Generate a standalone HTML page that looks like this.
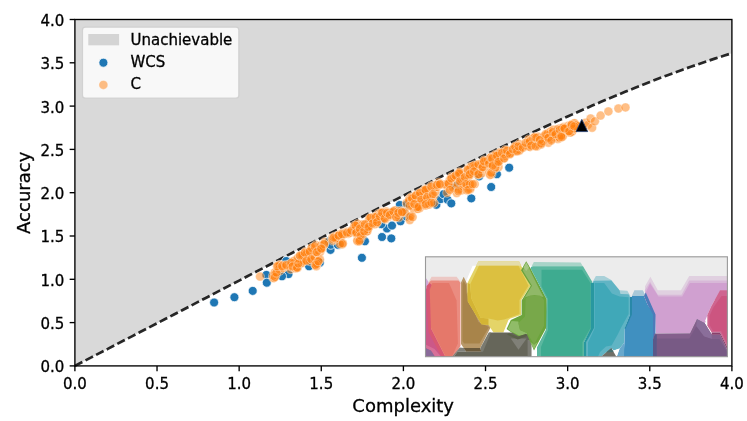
<!DOCTYPE html>
<html><head><meta charset="utf-8"><title>Accuracy vs Complexity</title>
<style>
html,body{margin:0;padding:0;background:#fff;}
svg{display:block;}
text{font-family:"DejaVu Sans","Liberation Sans",sans-serif;fill:#000;stroke:#000;stroke-width:0.3px;}
</style></head><body>
<svg width="747" height="421" viewBox="0 0 747 421">
<rect width="747" height="421" fill="#fff"/>
<path d="M74.9,19.5 L74.9,365.9 L83.1,361.6 L91.3,357.4 L99.5,353.1 L107.8,348.9 L116.0,344.6 L124.2,340.3 L132.4,336.1 L140.6,331.8 L148.8,327.6 L157.0,323.3 L165.2,319.0 L173.5,314.8 L181.7,310.5 L189.9,306.2 L198.1,301.9 L206.3,297.7 L214.5,293.4 L222.7,289.1 L230.9,284.8 L239.2,280.6 L247.4,276.3 L255.6,272.0 L263.8,267.7 L272.0,263.5 L280.2,259.2 L288.4,254.9 L296.6,250.6 L304.9,246.4 L313.1,242.1 L321.3,237.9 L329.5,233.6 L337.7,229.4 L345.9,225.1 L354.1,220.9 L362.3,216.7 L370.6,212.5 L378.8,208.2 L387.0,204.0 L395.2,199.9 L403.4,195.7 L411.6,191.5 L419.8,187.4 L428.0,183.3 L436.2,179.1 L444.5,175.0 L452.7,171.0 L460.9,166.9 L469.1,162.9 L477.3,158.8 L485.5,154.8 L493.7,150.9 L502.0,146.9 L510.2,143.0 L518.4,139.1 L526.6,135.3 L534.8,131.4 L543.0,127.6 L551.2,123.9 L559.4,120.1 L567.6,116.5 L575.9,112.8 L584.1,109.2 L592.3,105.6 L600.5,102.1 L608.7,98.6 L616.9,95.2 L625.1,91.8 L633.4,88.5 L641.6,85.2 L649.8,82.0 L658.0,78.8 L666.2,75.7 L674.4,72.7 L682.6,69.7 L690.8,66.8 L699.1,63.9 L707.3,61.1 L715.5,58.4 L723.7,55.8 L731.9,53.2 L731.9,19.5 Z" fill="#808080" fill-opacity="0.3"/>
<path d="M74.9,365.9 L83.1,361.6 L91.3,357.4 L99.5,353.1 L107.8,348.9 L116.0,344.6 L124.2,340.3 L132.4,336.1 L140.6,331.8 L148.8,327.6 L157.0,323.3 L165.2,319.0 L173.5,314.8 L181.7,310.5 L189.9,306.2 L198.1,301.9 L206.3,297.7 L214.5,293.4 L222.7,289.1 L230.9,284.8 L239.2,280.6 L247.4,276.3 L255.6,272.0 L263.8,267.7 L272.0,263.5 L280.2,259.2 L288.4,254.9 L296.6,250.6 L304.9,246.4 L313.1,242.1 L321.3,237.9 L329.5,233.6 L337.7,229.4 L345.9,225.1 L354.1,220.9 L362.3,216.7 L370.6,212.5 L378.8,208.2 L387.0,204.0 L395.2,199.9 L403.4,195.7 L411.6,191.5 L419.8,187.4 L428.0,183.3 L436.2,179.1 L444.5,175.0 L452.7,171.0 L460.9,166.9 L469.1,162.9 L477.3,158.8 L485.5,154.8 L493.7,150.9 L502.0,146.9 L510.2,143.0 L518.4,139.1 L526.6,135.3 L534.8,131.4 L543.0,127.6 L551.2,123.9 L559.4,120.1 L567.6,116.5 L575.9,112.8 L584.1,109.2 L592.3,105.6 L600.5,102.1 L608.7,98.6 L616.9,95.2 L625.1,91.8 L633.4,88.5 L641.6,85.2 L649.8,82.0 L658.0,78.8 L666.2,75.7 L674.4,72.7 L682.6,69.7 L690.8,66.8 L699.1,63.9 L707.3,61.1 L715.5,58.4 L723.7,55.8 L731.9,53.2" fill="none" stroke="#000" stroke-opacity="0.84" stroke-width="2.7" stroke-dasharray="8.4 3.55"/>
<g>
<circle cx="214.1" cy="302.5" r="4.5" fill="#1f77b4" fill-opacity="1" stroke="#fff" stroke-width="0.75" stroke-opacity="1"/>
<circle cx="234.4" cy="297.2" r="4.5" fill="#1f77b4" fill-opacity="1" stroke="#fff" stroke-width="0.75" stroke-opacity="1"/>
<circle cx="252.7" cy="290.9" r="4.5" fill="#1f77b4" fill-opacity="1" stroke="#fff" stroke-width="0.75" stroke-opacity="1"/>
<circle cx="266.4" cy="274.9" r="4.5" fill="#1f77b4" fill-opacity="1" stroke="#fff" stroke-width="0.75" stroke-opacity="1"/>
<circle cx="266.8" cy="282.7" r="4.5" fill="#1f77b4" fill-opacity="1" stroke="#fff" stroke-width="0.75" stroke-opacity="1"/>
<circle cx="288.5" cy="274.1" r="4.5" fill="#1f77b4" fill-opacity="1" stroke="#fff" stroke-width="0.75" stroke-opacity="1"/>
<circle cx="282.0" cy="276.3" r="4.5" fill="#1f77b4" fill-opacity="1" stroke="#fff" stroke-width="0.75" stroke-opacity="1"/>
<circle cx="286.2" cy="261.0" r="4.5" fill="#1f77b4" fill-opacity="1" stroke="#fff" stroke-width="0.75" stroke-opacity="1"/>
<circle cx="319.8" cy="262.7" r="4.5" fill="#1f77b4" fill-opacity="1" stroke="#fff" stroke-width="0.75" stroke-opacity="1"/>
<circle cx="309.1" cy="266.3" r="4.5" fill="#1f77b4" fill-opacity="1" stroke="#fff" stroke-width="0.75" stroke-opacity="1"/>
<circle cx="329.0" cy="241.4" r="4.5" fill="#1f77b4" fill-opacity="1" stroke="#fff" stroke-width="0.75" stroke-opacity="1"/>
<circle cx="330.5" cy="249.9" r="4.5" fill="#1f77b4" fill-opacity="1" stroke="#fff" stroke-width="0.75" stroke-opacity="1"/>
<circle cx="339.0" cy="244.9" r="4.5" fill="#1f77b4" fill-opacity="1" stroke="#fff" stroke-width="0.75" stroke-opacity="1"/>
<circle cx="330.7" cy="244.8" r="4.5" fill="#1f77b4" fill-opacity="1" stroke="#fff" stroke-width="0.75" stroke-opacity="1"/>
<circle cx="337.8" cy="244.8" r="4.5" fill="#1f77b4" fill-opacity="1" stroke="#fff" stroke-width="0.75" stroke-opacity="1"/>
<circle cx="364.9" cy="241.3" r="4.5" fill="#1f77b4" fill-opacity="1" stroke="#fff" stroke-width="0.75" stroke-opacity="1"/>
<circle cx="382.0" cy="237.0" r="4.5" fill="#1f77b4" fill-opacity="1" stroke="#fff" stroke-width="0.75" stroke-opacity="1"/>
<circle cx="391.3" cy="238.4" r="4.5" fill="#1f77b4" fill-opacity="1" stroke="#fff" stroke-width="0.75" stroke-opacity="1"/>
<circle cx="387.0" cy="228.5" r="4.5" fill="#1f77b4" fill-opacity="1" stroke="#fff" stroke-width="0.75" stroke-opacity="1"/>
<circle cx="392.0" cy="225.6" r="4.5" fill="#1f77b4" fill-opacity="1" stroke="#fff" stroke-width="0.75" stroke-opacity="1"/>
<circle cx="381.3" cy="224.2" r="4.5" fill="#1f77b4" fill-opacity="1" stroke="#fff" stroke-width="0.75" stroke-opacity="1"/>
<circle cx="400.5" cy="221.3" r="4.5" fill="#1f77b4" fill-opacity="1" stroke="#fff" stroke-width="0.75" stroke-opacity="1"/>
<circle cx="399.8" cy="205.0" r="4.5" fill="#1f77b4" fill-opacity="1" stroke="#fff" stroke-width="0.75" stroke-opacity="1"/>
<circle cx="403.4" cy="211.4" r="4.5" fill="#1f77b4" fill-opacity="1" stroke="#fff" stroke-width="0.75" stroke-opacity="1"/>
<circle cx="406.2" cy="216.4" r="4.5" fill="#1f77b4" fill-opacity="1" stroke="#fff" stroke-width="0.75" stroke-opacity="1"/>
<circle cx="406.9" cy="204.2" r="4.5" fill="#1f77b4" fill-opacity="1" stroke="#fff" stroke-width="0.75" stroke-opacity="1"/>
<circle cx="361.9" cy="257.8" r="4.5" fill="#1f77b4" fill-opacity="1" stroke="#fff" stroke-width="0.75" stroke-opacity="1"/>
<circle cx="436.4" cy="204.8" r="4.5" fill="#1f77b4" fill-opacity="1" stroke="#fff" stroke-width="0.75" stroke-opacity="1"/>
<circle cx="440.6" cy="199.1" r="4.5" fill="#1f77b4" fill-opacity="1" stroke="#fff" stroke-width="0.75" stroke-opacity="1"/>
<circle cx="443.5" cy="194.2" r="4.5" fill="#1f77b4" fill-opacity="1" stroke="#fff" stroke-width="0.75" stroke-opacity="1"/>
<circle cx="447.7" cy="199.9" r="4.5" fill="#1f77b4" fill-opacity="1" stroke="#fff" stroke-width="0.75" stroke-opacity="1"/>
<circle cx="451.3" cy="203.4" r="4.5" fill="#1f77b4" fill-opacity="1" stroke="#fff" stroke-width="0.75" stroke-opacity="1"/>
<circle cx="455.6" cy="186.3" r="4.5" fill="#1f77b4" fill-opacity="1" stroke="#fff" stroke-width="0.75" stroke-opacity="1"/>
<circle cx="471.3" cy="198.4" r="4.5" fill="#1f77b4" fill-opacity="1" stroke="#fff" stroke-width="0.75" stroke-opacity="1"/>
<circle cx="479.1" cy="176.4" r="4.5" fill="#1f77b4" fill-opacity="1" stroke="#fff" stroke-width="0.75" stroke-opacity="1"/>
<circle cx="491.2" cy="187.0" r="4.5" fill="#1f77b4" fill-opacity="1" stroke="#fff" stroke-width="0.75" stroke-opacity="1"/>
<circle cx="496.9" cy="174.2" r="4.5" fill="#1f77b4" fill-opacity="1" stroke="#fff" stroke-width="0.75" stroke-opacity="1"/>
<circle cx="509.2" cy="167.7" r="4.5" fill="#1f77b4" fill-opacity="1" stroke="#fff" stroke-width="0.75" stroke-opacity="1"/>
<circle cx="273.1" cy="278.1" r="4.5" fill="#ff7f0e" fill-opacity="0.5" stroke="#fff" stroke-width="0.75" stroke-opacity="0.5"/>
<circle cx="274.0" cy="277.9" r="4.5" fill="#ff7f0e" fill-opacity="0.5" stroke="#fff" stroke-width="0.75" stroke-opacity="0.5"/>
<circle cx="275.8" cy="274.8" r="4.5" fill="#ff7f0e" fill-opacity="0.5" stroke="#fff" stroke-width="0.75" stroke-opacity="0.5"/>
<circle cx="273.0" cy="275.8" r="4.5" fill="#ff7f0e" fill-opacity="0.5" stroke="#fff" stroke-width="0.75" stroke-opacity="0.5"/>
<circle cx="274.7" cy="272.5" r="4.5" fill="#ff7f0e" fill-opacity="0.5" stroke="#fff" stroke-width="0.75" stroke-opacity="0.5"/>
<circle cx="279.9" cy="270.8" r="4.5" fill="#ff7f0e" fill-opacity="0.5" stroke="#fff" stroke-width="0.75" stroke-opacity="0.5"/>
<circle cx="279.5" cy="265.0" r="4.5" fill="#ff7f0e" fill-opacity="0.5" stroke="#fff" stroke-width="0.75" stroke-opacity="0.5"/>
<circle cx="278.1" cy="265.8" r="4.5" fill="#ff7f0e" fill-opacity="0.5" stroke="#fff" stroke-width="0.75" stroke-opacity="0.5"/>
<circle cx="279.7" cy="265.1" r="4.5" fill="#ff7f0e" fill-opacity="0.5" stroke="#fff" stroke-width="0.75" stroke-opacity="0.5"/>
<circle cx="283.8" cy="266.1" r="4.5" fill="#ff7f0e" fill-opacity="0.5" stroke="#fff" stroke-width="0.75" stroke-opacity="0.5"/>
<circle cx="279.0" cy="268.9" r="4.5" fill="#ff7f0e" fill-opacity="0.5" stroke="#fff" stroke-width="0.75" stroke-opacity="0.5"/>
<circle cx="282.7" cy="265.2" r="4.5" fill="#ff7f0e" fill-opacity="0.5" stroke="#fff" stroke-width="0.75" stroke-opacity="0.5"/>
<circle cx="283.0" cy="268.0" r="4.5" fill="#ff7f0e" fill-opacity="0.5" stroke="#fff" stroke-width="0.75" stroke-opacity="0.5"/>
<circle cx="286.1" cy="265.9" r="4.5" fill="#ff7f0e" fill-opacity="0.5" stroke="#fff" stroke-width="0.75" stroke-opacity="0.5"/>
<circle cx="289.0" cy="264.4" r="4.5" fill="#ff7f0e" fill-opacity="0.5" stroke="#fff" stroke-width="0.75" stroke-opacity="0.5"/>
<circle cx="294.2" cy="260.8" r="4.5" fill="#ff7f0e" fill-opacity="0.5" stroke="#fff" stroke-width="0.75" stroke-opacity="0.5"/>
<circle cx="293.4" cy="261.4" r="4.5" fill="#ff7f0e" fill-opacity="0.5" stroke="#fff" stroke-width="0.75" stroke-opacity="0.5"/>
<circle cx="294.3" cy="262.7" r="4.5" fill="#ff7f0e" fill-opacity="0.5" stroke="#fff" stroke-width="0.75" stroke-opacity="0.5"/>
<circle cx="289.9" cy="266.3" r="4.5" fill="#ff7f0e" fill-opacity="0.5" stroke="#fff" stroke-width="0.75" stroke-opacity="0.5"/>
<circle cx="290.7" cy="269.2" r="4.5" fill="#ff7f0e" fill-opacity="0.5" stroke="#fff" stroke-width="0.75" stroke-opacity="0.5"/>
<circle cx="292.3" cy="267.0" r="4.5" fill="#ff7f0e" fill-opacity="0.5" stroke="#fff" stroke-width="0.75" stroke-opacity="0.5"/>
<circle cx="295.6" cy="268.4" r="4.5" fill="#ff7f0e" fill-opacity="0.5" stroke="#fff" stroke-width="0.75" stroke-opacity="0.5"/>
<circle cx="296.2" cy="267.5" r="4.5" fill="#ff7f0e" fill-opacity="0.5" stroke="#fff" stroke-width="0.75" stroke-opacity="0.5"/>
<circle cx="297.6" cy="267.7" r="4.5" fill="#ff7f0e" fill-opacity="0.5" stroke="#fff" stroke-width="0.75" stroke-opacity="0.5"/>
<circle cx="301.2" cy="262.8" r="4.5" fill="#ff7f0e" fill-opacity="0.5" stroke="#fff" stroke-width="0.75" stroke-opacity="0.5"/>
<circle cx="301.4" cy="263.4" r="4.5" fill="#ff7f0e" fill-opacity="0.5" stroke="#fff" stroke-width="0.75" stroke-opacity="0.5"/>
<circle cx="301.8" cy="262.5" r="4.5" fill="#ff7f0e" fill-opacity="0.5" stroke="#fff" stroke-width="0.75" stroke-opacity="0.5"/>
<circle cx="297.5" cy="258.2" r="4.5" fill="#ff7f0e" fill-opacity="0.5" stroke="#fff" stroke-width="0.75" stroke-opacity="0.5"/>
<circle cx="303.2" cy="255.6" r="4.5" fill="#ff7f0e" fill-opacity="0.5" stroke="#fff" stroke-width="0.75" stroke-opacity="0.5"/>
<circle cx="300.4" cy="256.2" r="4.5" fill="#ff7f0e" fill-opacity="0.5" stroke="#fff" stroke-width="0.75" stroke-opacity="0.5"/>
<circle cx="302.8" cy="255.1" r="4.5" fill="#ff7f0e" fill-opacity="0.5" stroke="#fff" stroke-width="0.75" stroke-opacity="0.5"/>
<circle cx="305.3" cy="251.7" r="4.5" fill="#ff7f0e" fill-opacity="0.5" stroke="#fff" stroke-width="0.75" stroke-opacity="0.5"/>
<circle cx="301.7" cy="255.7" r="4.5" fill="#ff7f0e" fill-opacity="0.5" stroke="#fff" stroke-width="0.75" stroke-opacity="0.5"/>
<circle cx="309.7" cy="257.2" r="4.5" fill="#ff7f0e" fill-opacity="0.5" stroke="#fff" stroke-width="0.75" stroke-opacity="0.5"/>
<circle cx="308.4" cy="259.2" r="4.5" fill="#ff7f0e" fill-opacity="0.5" stroke="#fff" stroke-width="0.75" stroke-opacity="0.5"/>
<circle cx="303.9" cy="261.0" r="4.5" fill="#ff7f0e" fill-opacity="0.5" stroke="#fff" stroke-width="0.75" stroke-opacity="0.5"/>
<circle cx="311.7" cy="252.0" r="4.5" fill="#ff7f0e" fill-opacity="0.5" stroke="#fff" stroke-width="0.75" stroke-opacity="0.5"/>
<circle cx="306.6" cy="253.5" r="4.5" fill="#ff7f0e" fill-opacity="0.5" stroke="#fff" stroke-width="0.75" stroke-opacity="0.5"/>
<circle cx="306.6" cy="253.9" r="4.5" fill="#ff7f0e" fill-opacity="0.5" stroke="#fff" stroke-width="0.75" stroke-opacity="0.5"/>
<circle cx="310.1" cy="261.3" r="4.5" fill="#ff7f0e" fill-opacity="0.5" stroke="#fff" stroke-width="0.75" stroke-opacity="0.5"/>
<circle cx="314.7" cy="257.5" r="4.5" fill="#ff7f0e" fill-opacity="0.5" stroke="#fff" stroke-width="0.75" stroke-opacity="0.5"/>
<circle cx="314.8" cy="256.7" r="4.5" fill="#ff7f0e" fill-opacity="0.5" stroke="#fff" stroke-width="0.75" stroke-opacity="0.5"/>
<circle cx="311.8" cy="248.3" r="4.5" fill="#ff7f0e" fill-opacity="0.5" stroke="#fff" stroke-width="0.75" stroke-opacity="0.5"/>
<circle cx="311.5" cy="247.9" r="4.5" fill="#ff7f0e" fill-opacity="0.5" stroke="#fff" stroke-width="0.75" stroke-opacity="0.5"/>
<circle cx="315.6" cy="245.1" r="4.5" fill="#ff7f0e" fill-opacity="0.5" stroke="#fff" stroke-width="0.75" stroke-opacity="0.5"/>
<circle cx="319.5" cy="250.1" r="4.5" fill="#ff7f0e" fill-opacity="0.5" stroke="#fff" stroke-width="0.75" stroke-opacity="0.5"/>
<circle cx="320.1" cy="252.1" r="4.5" fill="#ff7f0e" fill-opacity="0.5" stroke="#fff" stroke-width="0.75" stroke-opacity="0.5"/>
<circle cx="316.0" cy="252.4" r="4.5" fill="#ff7f0e" fill-opacity="0.5" stroke="#fff" stroke-width="0.75" stroke-opacity="0.5"/>
<circle cx="315.6" cy="265.4" r="4.5" fill="#ff7f0e" fill-opacity="0.5" stroke="#fff" stroke-width="0.75" stroke-opacity="0.5"/>
<circle cx="316.2" cy="264.8" r="4.5" fill="#ff7f0e" fill-opacity="0.5" stroke="#fff" stroke-width="0.75" stroke-opacity="0.5"/>
<circle cx="316.3" cy="266.2" r="4.5" fill="#ff7f0e" fill-opacity="0.5" stroke="#fff" stroke-width="0.75" stroke-opacity="0.5"/>
<circle cx="318.4" cy="261.0" r="4.5" fill="#ff7f0e" fill-opacity="0.5" stroke="#fff" stroke-width="0.75" stroke-opacity="0.5"/>
<circle cx="319.9" cy="259.5" r="4.5" fill="#ff7f0e" fill-opacity="0.5" stroke="#fff" stroke-width="0.75" stroke-opacity="0.5"/>
<circle cx="317.0" cy="263.9" r="4.5" fill="#ff7f0e" fill-opacity="0.5" stroke="#fff" stroke-width="0.75" stroke-opacity="0.5"/>
<circle cx="324.2" cy="244.3" r="4.5" fill="#ff7f0e" fill-opacity="0.5" stroke="#fff" stroke-width="0.75" stroke-opacity="0.5"/>
<circle cx="320.7" cy="245.6" r="4.5" fill="#ff7f0e" fill-opacity="0.5" stroke="#fff" stroke-width="0.75" stroke-opacity="0.5"/>
<circle cx="324.7" cy="242.0" r="4.5" fill="#ff7f0e" fill-opacity="0.5" stroke="#fff" stroke-width="0.75" stroke-opacity="0.5"/>
<circle cx="322.0" cy="248.6" r="4.5" fill="#ff7f0e" fill-opacity="0.5" stroke="#fff" stroke-width="0.75" stroke-opacity="0.5"/>
<circle cx="318.1" cy="250.5" r="4.5" fill="#ff7f0e" fill-opacity="0.5" stroke="#fff" stroke-width="0.75" stroke-opacity="0.5"/>
<circle cx="321.0" cy="249.3" r="4.5" fill="#ff7f0e" fill-opacity="0.5" stroke="#fff" stroke-width="0.75" stroke-opacity="0.5"/>
<circle cx="334.5" cy="239.8" r="4.5" fill="#ff7f0e" fill-opacity="0.5" stroke="#fff" stroke-width="0.75" stroke-opacity="0.5"/>
<circle cx="337.2" cy="235.8" r="4.5" fill="#ff7f0e" fill-opacity="0.5" stroke="#fff" stroke-width="0.75" stroke-opacity="0.5"/>
<circle cx="332.4" cy="240.7" r="4.5" fill="#ff7f0e" fill-opacity="0.5" stroke="#fff" stroke-width="0.75" stroke-opacity="0.5"/>
<circle cx="342.2" cy="233.1" r="4.5" fill="#ff7f0e" fill-opacity="0.5" stroke="#fff" stroke-width="0.75" stroke-opacity="0.5"/>
<circle cx="338.7" cy="236.2" r="4.5" fill="#ff7f0e" fill-opacity="0.5" stroke="#fff" stroke-width="0.75" stroke-opacity="0.5"/>
<circle cx="337.7" cy="235.8" r="4.5" fill="#ff7f0e" fill-opacity="0.5" stroke="#fff" stroke-width="0.75" stroke-opacity="0.5"/>
<circle cx="332.3" cy="237.8" r="4.5" fill="#ff7f0e" fill-opacity="0.5" stroke="#fff" stroke-width="0.75" stroke-opacity="0.5"/>
<circle cx="334.3" cy="236.6" r="4.5" fill="#ff7f0e" fill-opacity="0.5" stroke="#fff" stroke-width="0.75" stroke-opacity="0.5"/>
<circle cx="332.7" cy="239.2" r="4.5" fill="#ff7f0e" fill-opacity="0.5" stroke="#fff" stroke-width="0.75" stroke-opacity="0.5"/>
<circle cx="335.2" cy="237.5" r="4.5" fill="#ff7f0e" fill-opacity="0.5" stroke="#fff" stroke-width="0.75" stroke-opacity="0.5"/>
<circle cx="340.1" cy="234.0" r="4.5" fill="#ff7f0e" fill-opacity="0.5" stroke="#fff" stroke-width="0.75" stroke-opacity="0.5"/>
<circle cx="336.6" cy="237.8" r="4.5" fill="#ff7f0e" fill-opacity="0.5" stroke="#fff" stroke-width="0.75" stroke-opacity="0.5"/>
<circle cx="341.0" cy="243.1" r="4.5" fill="#ff7f0e" fill-opacity="0.5" stroke="#fff" stroke-width="0.75" stroke-opacity="0.5"/>
<circle cx="342.3" cy="244.4" r="4.5" fill="#ff7f0e" fill-opacity="0.5" stroke="#fff" stroke-width="0.75" stroke-opacity="0.5"/>
<circle cx="340.0" cy="244.1" r="4.5" fill="#ff7f0e" fill-opacity="0.5" stroke="#fff" stroke-width="0.75" stroke-opacity="0.5"/>
<circle cx="340.9" cy="236.1" r="4.5" fill="#ff7f0e" fill-opacity="0.5" stroke="#fff" stroke-width="0.75" stroke-opacity="0.5"/>
<circle cx="341.7" cy="235.8" r="4.5" fill="#ff7f0e" fill-opacity="0.5" stroke="#fff" stroke-width="0.75" stroke-opacity="0.5"/>
<circle cx="339.8" cy="234.7" r="4.5" fill="#ff7f0e" fill-opacity="0.5" stroke="#fff" stroke-width="0.75" stroke-opacity="0.5"/>
<circle cx="348.2" cy="233.7" r="4.5" fill="#ff7f0e" fill-opacity="0.5" stroke="#fff" stroke-width="0.75" stroke-opacity="0.5"/>
<circle cx="346.8" cy="231.8" r="4.5" fill="#ff7f0e" fill-opacity="0.5" stroke="#fff" stroke-width="0.75" stroke-opacity="0.5"/>
<circle cx="344.4" cy="234.1" r="4.5" fill="#ff7f0e" fill-opacity="0.5" stroke="#fff" stroke-width="0.75" stroke-opacity="0.5"/>
<circle cx="349.2" cy="232.9" r="4.5" fill="#ff7f0e" fill-opacity="0.5" stroke="#fff" stroke-width="0.75" stroke-opacity="0.5"/>
<circle cx="353.8" cy="228.1" r="4.5" fill="#ff7f0e" fill-opacity="0.5" stroke="#fff" stroke-width="0.75" stroke-opacity="0.5"/>
<circle cx="349.9" cy="232.6" r="4.5" fill="#ff7f0e" fill-opacity="0.5" stroke="#fff" stroke-width="0.75" stroke-opacity="0.5"/>
<circle cx="356.6" cy="226.3" r="4.5" fill="#ff7f0e" fill-opacity="0.5" stroke="#fff" stroke-width="0.75" stroke-opacity="0.5"/>
<circle cx="354.5" cy="225.5" r="4.5" fill="#ff7f0e" fill-opacity="0.5" stroke="#fff" stroke-width="0.75" stroke-opacity="0.5"/>
<circle cx="357.7" cy="223.7" r="4.5" fill="#ff7f0e" fill-opacity="0.5" stroke="#fff" stroke-width="0.75" stroke-opacity="0.5"/>
<circle cx="355.3" cy="232.9" r="4.5" fill="#ff7f0e" fill-opacity="0.5" stroke="#fff" stroke-width="0.75" stroke-opacity="0.5"/>
<circle cx="355.8" cy="232.6" r="4.5" fill="#ff7f0e" fill-opacity="0.5" stroke="#fff" stroke-width="0.75" stroke-opacity="0.5"/>
<circle cx="359.3" cy="229.9" r="4.5" fill="#ff7f0e" fill-opacity="0.5" stroke="#fff" stroke-width="0.75" stroke-opacity="0.5"/>
<circle cx="356.4" cy="232.0" r="4.5" fill="#ff7f0e" fill-opacity="0.5" stroke="#fff" stroke-width="0.75" stroke-opacity="0.5"/>
<circle cx="362.6" cy="229.1" r="4.5" fill="#ff7f0e" fill-opacity="0.5" stroke="#fff" stroke-width="0.75" stroke-opacity="0.5"/>
<circle cx="359.4" cy="230.5" r="4.5" fill="#ff7f0e" fill-opacity="0.5" stroke="#fff" stroke-width="0.75" stroke-opacity="0.5"/>
<circle cx="363.6" cy="233.0" r="4.5" fill="#ff7f0e" fill-opacity="0.5" stroke="#fff" stroke-width="0.75" stroke-opacity="0.5"/>
<circle cx="362.3" cy="236.1" r="4.5" fill="#ff7f0e" fill-opacity="0.5" stroke="#fff" stroke-width="0.75" stroke-opacity="0.5"/>
<circle cx="361.7" cy="235.1" r="4.5" fill="#ff7f0e" fill-opacity="0.5" stroke="#fff" stroke-width="0.75" stroke-opacity="0.5"/>
<circle cx="357.7" cy="241.4" r="4.5" fill="#ff7f0e" fill-opacity="0.5" stroke="#fff" stroke-width="0.75" stroke-opacity="0.5"/>
<circle cx="357.3" cy="240.5" r="4.5" fill="#ff7f0e" fill-opacity="0.5" stroke="#fff" stroke-width="0.75" stroke-opacity="0.5"/>
<circle cx="359.8" cy="240.1" r="4.5" fill="#ff7f0e" fill-opacity="0.5" stroke="#fff" stroke-width="0.75" stroke-opacity="0.5"/>
<circle cx="366.4" cy="228.4" r="4.5" fill="#ff7f0e" fill-opacity="0.5" stroke="#fff" stroke-width="0.75" stroke-opacity="0.5"/>
<circle cx="367.0" cy="230.7" r="4.5" fill="#ff7f0e" fill-opacity="0.5" stroke="#fff" stroke-width="0.75" stroke-opacity="0.5"/>
<circle cx="367.2" cy="231.4" r="4.5" fill="#ff7f0e" fill-opacity="0.5" stroke="#fff" stroke-width="0.75" stroke-opacity="0.5"/>
<circle cx="367.7" cy="223.1" r="4.5" fill="#ff7f0e" fill-opacity="0.5" stroke="#fff" stroke-width="0.75" stroke-opacity="0.5"/>
<circle cx="361.5" cy="226.9" r="4.5" fill="#ff7f0e" fill-opacity="0.5" stroke="#fff" stroke-width="0.75" stroke-opacity="0.5"/>
<circle cx="362.6" cy="224.5" r="4.5" fill="#ff7f0e" fill-opacity="0.5" stroke="#fff" stroke-width="0.75" stroke-opacity="0.5"/>
<circle cx="369.6" cy="226.5" r="4.5" fill="#ff7f0e" fill-opacity="0.5" stroke="#fff" stroke-width="0.75" stroke-opacity="0.5"/>
<circle cx="367.9" cy="229.1" r="4.5" fill="#ff7f0e" fill-opacity="0.5" stroke="#fff" stroke-width="0.75" stroke-opacity="0.5"/>
<circle cx="369.3" cy="226.0" r="4.5" fill="#ff7f0e" fill-opacity="0.5" stroke="#fff" stroke-width="0.75" stroke-opacity="0.5"/>
<circle cx="368.9" cy="220.1" r="4.5" fill="#ff7f0e" fill-opacity="0.5" stroke="#fff" stroke-width="0.75" stroke-opacity="0.5"/>
<circle cx="370.4" cy="219.0" r="4.5" fill="#ff7f0e" fill-opacity="0.5" stroke="#fff" stroke-width="0.75" stroke-opacity="0.5"/>
<circle cx="369.6" cy="218.2" r="4.5" fill="#ff7f0e" fill-opacity="0.5" stroke="#fff" stroke-width="0.75" stroke-opacity="0.5"/>
<circle cx="374.9" cy="221.1" r="4.5" fill="#ff7f0e" fill-opacity="0.5" stroke="#fff" stroke-width="0.75" stroke-opacity="0.5"/>
<circle cx="374.7" cy="224.2" r="4.5" fill="#ff7f0e" fill-opacity="0.5" stroke="#fff" stroke-width="0.75" stroke-opacity="0.5"/>
<circle cx="374.8" cy="223.7" r="4.5" fill="#ff7f0e" fill-opacity="0.5" stroke="#fff" stroke-width="0.75" stroke-opacity="0.5"/>
<circle cx="372.2" cy="219.3" r="4.5" fill="#ff7f0e" fill-opacity="0.5" stroke="#fff" stroke-width="0.75" stroke-opacity="0.5"/>
<circle cx="378.1" cy="214.0" r="4.5" fill="#ff7f0e" fill-opacity="0.5" stroke="#fff" stroke-width="0.75" stroke-opacity="0.5"/>
<circle cx="374.0" cy="217.0" r="4.5" fill="#ff7f0e" fill-opacity="0.5" stroke="#fff" stroke-width="0.75" stroke-opacity="0.5"/>
<circle cx="377.2" cy="221.7" r="4.5" fill="#ff7f0e" fill-opacity="0.5" stroke="#fff" stroke-width="0.75" stroke-opacity="0.5"/>
<circle cx="376.8" cy="223.3" r="4.5" fill="#ff7f0e" fill-opacity="0.5" stroke="#fff" stroke-width="0.75" stroke-opacity="0.5"/>
<circle cx="373.5" cy="222.1" r="4.5" fill="#ff7f0e" fill-opacity="0.5" stroke="#fff" stroke-width="0.75" stroke-opacity="0.5"/>
<circle cx="377.3" cy="216.2" r="4.5" fill="#ff7f0e" fill-opacity="0.5" stroke="#fff" stroke-width="0.75" stroke-opacity="0.5"/>
<circle cx="376.9" cy="219.8" r="4.5" fill="#ff7f0e" fill-opacity="0.5" stroke="#fff" stroke-width="0.75" stroke-opacity="0.5"/>
<circle cx="382.4" cy="213.5" r="4.5" fill="#ff7f0e" fill-opacity="0.5" stroke="#fff" stroke-width="0.75" stroke-opacity="0.5"/>
<circle cx="382.0" cy="212.1" r="4.5" fill="#ff7f0e" fill-opacity="0.5" stroke="#fff" stroke-width="0.75" stroke-opacity="0.5"/>
<circle cx="380.7" cy="212.9" r="4.5" fill="#ff7f0e" fill-opacity="0.5" stroke="#fff" stroke-width="0.75" stroke-opacity="0.5"/>
<circle cx="383.0" cy="212.6" r="4.5" fill="#ff7f0e" fill-opacity="0.5" stroke="#fff" stroke-width="0.75" stroke-opacity="0.5"/>
<circle cx="383.8" cy="217.8" r="4.5" fill="#ff7f0e" fill-opacity="0.5" stroke="#fff" stroke-width="0.75" stroke-opacity="0.5"/>
<circle cx="383.6" cy="217.6" r="4.5" fill="#ff7f0e" fill-opacity="0.5" stroke="#fff" stroke-width="0.75" stroke-opacity="0.5"/>
<circle cx="385.2" cy="219.2" r="4.5" fill="#ff7f0e" fill-opacity="0.5" stroke="#fff" stroke-width="0.75" stroke-opacity="0.5"/>
<circle cx="386.2" cy="211.5" r="4.5" fill="#ff7f0e" fill-opacity="0.5" stroke="#fff" stroke-width="0.75" stroke-opacity="0.5"/>
<circle cx="384.7" cy="213.4" r="4.5" fill="#ff7f0e" fill-opacity="0.5" stroke="#fff" stroke-width="0.75" stroke-opacity="0.5"/>
<circle cx="387.7" cy="213.6" r="4.5" fill="#ff7f0e" fill-opacity="0.5" stroke="#fff" stroke-width="0.75" stroke-opacity="0.5"/>
<circle cx="389.0" cy="216.5" r="4.5" fill="#ff7f0e" fill-opacity="0.5" stroke="#fff" stroke-width="0.75" stroke-opacity="0.5"/>
<circle cx="390.7" cy="214.2" r="4.5" fill="#ff7f0e" fill-opacity="0.5" stroke="#fff" stroke-width="0.75" stroke-opacity="0.5"/>
<circle cx="388.9" cy="215.3" r="4.5" fill="#ff7f0e" fill-opacity="0.5" stroke="#fff" stroke-width="0.75" stroke-opacity="0.5"/>
<circle cx="394.8" cy="210.4" r="4.5" fill="#ff7f0e" fill-opacity="0.5" stroke="#fff" stroke-width="0.75" stroke-opacity="0.5"/>
<circle cx="394.8" cy="210.6" r="4.5" fill="#ff7f0e" fill-opacity="0.5" stroke="#fff" stroke-width="0.75" stroke-opacity="0.5"/>
<circle cx="391.6" cy="212.4" r="4.5" fill="#ff7f0e" fill-opacity="0.5" stroke="#fff" stroke-width="0.75" stroke-opacity="0.5"/>
<circle cx="397.6" cy="214.7" r="4.5" fill="#ff7f0e" fill-opacity="0.5" stroke="#fff" stroke-width="0.75" stroke-opacity="0.5"/>
<circle cx="395.7" cy="217.1" r="4.5" fill="#ff7f0e" fill-opacity="0.5" stroke="#fff" stroke-width="0.75" stroke-opacity="0.5"/>
<circle cx="398.9" cy="217.5" r="4.5" fill="#ff7f0e" fill-opacity="0.5" stroke="#fff" stroke-width="0.75" stroke-opacity="0.5"/>
<circle cx="397.5" cy="214.8" r="4.5" fill="#ff7f0e" fill-opacity="0.5" stroke="#fff" stroke-width="0.75" stroke-opacity="0.5"/>
<circle cx="400.4" cy="210.8" r="4.5" fill="#ff7f0e" fill-opacity="0.5" stroke="#fff" stroke-width="0.75" stroke-opacity="0.5"/>
<circle cx="398.1" cy="211.4" r="4.5" fill="#ff7f0e" fill-opacity="0.5" stroke="#fff" stroke-width="0.75" stroke-opacity="0.5"/>
<circle cx="404.1" cy="211.7" r="4.5" fill="#ff7f0e" fill-opacity="0.5" stroke="#fff" stroke-width="0.75" stroke-opacity="0.5"/>
<circle cx="404.6" cy="211.9" r="4.5" fill="#ff7f0e" fill-opacity="0.5" stroke="#fff" stroke-width="0.75" stroke-opacity="0.5"/>
<circle cx="403.1" cy="212.4" r="4.5" fill="#ff7f0e" fill-opacity="0.5" stroke="#fff" stroke-width="0.75" stroke-opacity="0.5"/>
<circle cx="409.5" cy="198.9" r="4.5" fill="#ff7f0e" fill-opacity="0.5" stroke="#fff" stroke-width="0.75" stroke-opacity="0.5"/>
<circle cx="409.7" cy="198.4" r="4.5" fill="#ff7f0e" fill-opacity="0.5" stroke="#fff" stroke-width="0.75" stroke-opacity="0.5"/>
<circle cx="406.6" cy="203.0" r="4.5" fill="#ff7f0e" fill-opacity="0.5" stroke="#fff" stroke-width="0.75" stroke-opacity="0.5"/>
<circle cx="409.4" cy="217.1" r="4.5" fill="#ff7f0e" fill-opacity="0.5" stroke="#fff" stroke-width="0.75" stroke-opacity="0.5"/>
<circle cx="409.8" cy="220.0" r="4.5" fill="#ff7f0e" fill-opacity="0.5" stroke="#fff" stroke-width="0.75" stroke-opacity="0.5"/>
<circle cx="410.4" cy="216.3" r="4.5" fill="#ff7f0e" fill-opacity="0.5" stroke="#fff" stroke-width="0.75" stroke-opacity="0.5"/>
<circle cx="412.2" cy="203.0" r="4.5" fill="#ff7f0e" fill-opacity="0.5" stroke="#fff" stroke-width="0.75" stroke-opacity="0.5"/>
<circle cx="412.2" cy="205.2" r="4.5" fill="#ff7f0e" fill-opacity="0.5" stroke="#fff" stroke-width="0.75" stroke-opacity="0.5"/>
<circle cx="412.2" cy="206.3" r="4.5" fill="#ff7f0e" fill-opacity="0.5" stroke="#fff" stroke-width="0.75" stroke-opacity="0.5"/>
<circle cx="416.1" cy="199.4" r="4.5" fill="#ff7f0e" fill-opacity="0.5" stroke="#fff" stroke-width="0.75" stroke-opacity="0.5"/>
<circle cx="412.3" cy="201.2" r="4.5" fill="#ff7f0e" fill-opacity="0.5" stroke="#fff" stroke-width="0.75" stroke-opacity="0.5"/>
<circle cx="415.6" cy="199.3" r="4.5" fill="#ff7f0e" fill-opacity="0.5" stroke="#fff" stroke-width="0.75" stroke-opacity="0.5"/>
<circle cx="414.1" cy="209.5" r="4.5" fill="#ff7f0e" fill-opacity="0.5" stroke="#fff" stroke-width="0.75" stroke-opacity="0.5"/>
<circle cx="419.9" cy="203.8" r="4.5" fill="#ff7f0e" fill-opacity="0.5" stroke="#fff" stroke-width="0.75" stroke-opacity="0.5"/>
<circle cx="415.7" cy="208.0" r="4.5" fill="#ff7f0e" fill-opacity="0.5" stroke="#fff" stroke-width="0.75" stroke-opacity="0.5"/>
<circle cx="421.3" cy="193.5" r="4.5" fill="#ff7f0e" fill-opacity="0.5" stroke="#fff" stroke-width="0.75" stroke-opacity="0.5"/>
<circle cx="416.8" cy="195.8" r="4.5" fill="#ff7f0e" fill-opacity="0.5" stroke="#fff" stroke-width="0.75" stroke-opacity="0.5"/>
<circle cx="419.8" cy="196.3" r="4.5" fill="#ff7f0e" fill-opacity="0.5" stroke="#fff" stroke-width="0.75" stroke-opacity="0.5"/>
<circle cx="411.4" cy="198.2" r="4.5" fill="#ff7f0e" fill-opacity="0.5" stroke="#fff" stroke-width="0.75" stroke-opacity="0.5"/>
<circle cx="411.4" cy="198.2" r="4.5" fill="#ff7f0e" fill-opacity="0.5" stroke="#fff" stroke-width="0.75" stroke-opacity="0.5"/>
<circle cx="411.5" cy="197.0" r="4.5" fill="#ff7f0e" fill-opacity="0.5" stroke="#fff" stroke-width="0.75" stroke-opacity="0.5"/>
<circle cx="415.7" cy="197.5" r="4.5" fill="#ff7f0e" fill-opacity="0.5" stroke="#fff" stroke-width="0.75" stroke-opacity="0.5"/>
<circle cx="415.1" cy="196.9" r="4.5" fill="#ff7f0e" fill-opacity="0.5" stroke="#fff" stroke-width="0.75" stroke-opacity="0.5"/>
<circle cx="413.3" cy="197.6" r="4.5" fill="#ff7f0e" fill-opacity="0.5" stroke="#fff" stroke-width="0.75" stroke-opacity="0.5"/>
<circle cx="416.1" cy="203.9" r="4.5" fill="#ff7f0e" fill-opacity="0.5" stroke="#fff" stroke-width="0.75" stroke-opacity="0.5"/>
<circle cx="414.4" cy="204.0" r="4.5" fill="#ff7f0e" fill-opacity="0.5" stroke="#fff" stroke-width="0.75" stroke-opacity="0.5"/>
<circle cx="415.3" cy="205.2" r="4.5" fill="#ff7f0e" fill-opacity="0.5" stroke="#fff" stroke-width="0.75" stroke-opacity="0.5"/>
<circle cx="417.5" cy="194.2" r="4.5" fill="#ff7f0e" fill-opacity="0.5" stroke="#fff" stroke-width="0.75" stroke-opacity="0.5"/>
<circle cx="422.9" cy="191.3" r="4.5" fill="#ff7f0e" fill-opacity="0.5" stroke="#fff" stroke-width="0.75" stroke-opacity="0.5"/>
<circle cx="419.6" cy="193.8" r="4.5" fill="#ff7f0e" fill-opacity="0.5" stroke="#fff" stroke-width="0.75" stroke-opacity="0.5"/>
<circle cx="419.2" cy="200.1" r="4.5" fill="#ff7f0e" fill-opacity="0.5" stroke="#fff" stroke-width="0.75" stroke-opacity="0.5"/>
<circle cx="419.3" cy="201.3" r="4.5" fill="#ff7f0e" fill-opacity="0.5" stroke="#fff" stroke-width="0.75" stroke-opacity="0.5"/>
<circle cx="420.1" cy="199.5" r="4.5" fill="#ff7f0e" fill-opacity="0.5" stroke="#fff" stroke-width="0.75" stroke-opacity="0.5"/>
<circle cx="419.8" cy="208.1" r="4.5" fill="#ff7f0e" fill-opacity="0.5" stroke="#fff" stroke-width="0.75" stroke-opacity="0.5"/>
<circle cx="417.1" cy="208.5" r="4.5" fill="#ff7f0e" fill-opacity="0.5" stroke="#fff" stroke-width="0.75" stroke-opacity="0.5"/>
<circle cx="417.9" cy="208.7" r="4.5" fill="#ff7f0e" fill-opacity="0.5" stroke="#fff" stroke-width="0.75" stroke-opacity="0.5"/>
<circle cx="426.3" cy="188.7" r="4.5" fill="#ff7f0e" fill-opacity="0.5" stroke="#fff" stroke-width="0.75" stroke-opacity="0.5"/>
<circle cx="423.7" cy="190.6" r="4.5" fill="#ff7f0e" fill-opacity="0.5" stroke="#fff" stroke-width="0.75" stroke-opacity="0.5"/>
<circle cx="424.9" cy="189.8" r="4.5" fill="#ff7f0e" fill-opacity="0.5" stroke="#fff" stroke-width="0.75" stroke-opacity="0.5"/>
<circle cx="425.9" cy="198.7" r="4.5" fill="#ff7f0e" fill-opacity="0.5" stroke="#fff" stroke-width="0.75" stroke-opacity="0.5"/>
<circle cx="424.6" cy="200.2" r="4.5" fill="#ff7f0e" fill-opacity="0.5" stroke="#fff" stroke-width="0.75" stroke-opacity="0.5"/>
<circle cx="427.0" cy="197.5" r="4.5" fill="#ff7f0e" fill-opacity="0.5" stroke="#fff" stroke-width="0.75" stroke-opacity="0.5"/>
<circle cx="425.5" cy="205.6" r="4.5" fill="#ff7f0e" fill-opacity="0.5" stroke="#fff" stroke-width="0.75" stroke-opacity="0.5"/>
<circle cx="428.0" cy="203.2" r="4.5" fill="#ff7f0e" fill-opacity="0.5" stroke="#fff" stroke-width="0.75" stroke-opacity="0.5"/>
<circle cx="425.6" cy="205.0" r="4.5" fill="#ff7f0e" fill-opacity="0.5" stroke="#fff" stroke-width="0.75" stroke-opacity="0.5"/>
<circle cx="433.9" cy="185.4" r="4.5" fill="#ff7f0e" fill-opacity="0.5" stroke="#fff" stroke-width="0.75" stroke-opacity="0.5"/>
<circle cx="433.0" cy="188.0" r="4.5" fill="#ff7f0e" fill-opacity="0.5" stroke="#fff" stroke-width="0.75" stroke-opacity="0.5"/>
<circle cx="431.2" cy="186.0" r="4.5" fill="#ff7f0e" fill-opacity="0.5" stroke="#fff" stroke-width="0.75" stroke-opacity="0.5"/>
<circle cx="430.9" cy="196.0" r="4.5" fill="#ff7f0e" fill-opacity="0.5" stroke="#fff" stroke-width="0.75" stroke-opacity="0.5"/>
<circle cx="434.0" cy="195.4" r="4.5" fill="#ff7f0e" fill-opacity="0.5" stroke="#fff" stroke-width="0.75" stroke-opacity="0.5"/>
<circle cx="435.3" cy="191.9" r="4.5" fill="#ff7f0e" fill-opacity="0.5" stroke="#fff" stroke-width="0.75" stroke-opacity="0.5"/>
<circle cx="429.2" cy="202.8" r="4.5" fill="#ff7f0e" fill-opacity="0.5" stroke="#fff" stroke-width="0.75" stroke-opacity="0.5"/>
<circle cx="429.2" cy="204.6" r="4.5" fill="#ff7f0e" fill-opacity="0.5" stroke="#fff" stroke-width="0.75" stroke-opacity="0.5"/>
<circle cx="433.9" cy="203.0" r="4.5" fill="#ff7f0e" fill-opacity="0.5" stroke="#fff" stroke-width="0.75" stroke-opacity="0.5"/>
<circle cx="435.4" cy="187.2" r="4.5" fill="#ff7f0e" fill-opacity="0.5" stroke="#fff" stroke-width="0.75" stroke-opacity="0.5"/>
<circle cx="435.8" cy="185.2" r="4.5" fill="#ff7f0e" fill-opacity="0.5" stroke="#fff" stroke-width="0.75" stroke-opacity="0.5"/>
<circle cx="438.7" cy="182.4" r="4.5" fill="#ff7f0e" fill-opacity="0.5" stroke="#fff" stroke-width="0.75" stroke-opacity="0.5"/>
<circle cx="437.0" cy="187.0" r="4.5" fill="#ff7f0e" fill-opacity="0.5" stroke="#fff" stroke-width="0.75" stroke-opacity="0.5"/>
<circle cx="438.4" cy="184.4" r="4.5" fill="#ff7f0e" fill-opacity="0.5" stroke="#fff" stroke-width="0.75" stroke-opacity="0.5"/>
<circle cx="440.5" cy="184.6" r="4.5" fill="#ff7f0e" fill-opacity="0.5" stroke="#fff" stroke-width="0.75" stroke-opacity="0.5"/>
<circle cx="445.0" cy="184.6" r="4.5" fill="#ff7f0e" fill-opacity="0.5" stroke="#fff" stroke-width="0.75" stroke-opacity="0.5"/>
<circle cx="448.1" cy="183.7" r="4.5" fill="#ff7f0e" fill-opacity="0.5" stroke="#fff" stroke-width="0.75" stroke-opacity="0.5"/>
<circle cx="446.5" cy="184.9" r="4.5" fill="#ff7f0e" fill-opacity="0.5" stroke="#fff" stroke-width="0.75" stroke-opacity="0.5"/>
<circle cx="454.5" cy="176.5" r="4.5" fill="#ff7f0e" fill-opacity="0.5" stroke="#fff" stroke-width="0.75" stroke-opacity="0.5"/>
<circle cx="451.6" cy="176.8" r="4.5" fill="#ff7f0e" fill-opacity="0.5" stroke="#fff" stroke-width="0.75" stroke-opacity="0.5"/>
<circle cx="449.7" cy="180.0" r="4.5" fill="#ff7f0e" fill-opacity="0.5" stroke="#fff" stroke-width="0.75" stroke-opacity="0.5"/>
<circle cx="447.2" cy="192.8" r="4.5" fill="#ff7f0e" fill-opacity="0.5" stroke="#fff" stroke-width="0.75" stroke-opacity="0.5"/>
<circle cx="452.8" cy="186.9" r="4.5" fill="#ff7f0e" fill-opacity="0.5" stroke="#fff" stroke-width="0.75" stroke-opacity="0.5"/>
<circle cx="453.0" cy="187.9" r="4.5" fill="#ff7f0e" fill-opacity="0.5" stroke="#fff" stroke-width="0.75" stroke-opacity="0.5"/>
<circle cx="457.5" cy="175.7" r="4.5" fill="#ff7f0e" fill-opacity="0.5" stroke="#fff" stroke-width="0.75" stroke-opacity="0.5"/>
<circle cx="454.2" cy="177.0" r="4.5" fill="#ff7f0e" fill-opacity="0.5" stroke="#fff" stroke-width="0.75" stroke-opacity="0.5"/>
<circle cx="456.7" cy="176.3" r="4.5" fill="#ff7f0e" fill-opacity="0.5" stroke="#fff" stroke-width="0.75" stroke-opacity="0.5"/>
<circle cx="456.8" cy="193.1" r="4.5" fill="#ff7f0e" fill-opacity="0.5" stroke="#fff" stroke-width="0.75" stroke-opacity="0.5"/>
<circle cx="461.6" cy="190.4" r="4.5" fill="#ff7f0e" fill-opacity="0.5" stroke="#fff" stroke-width="0.75" stroke-opacity="0.5"/>
<circle cx="458.7" cy="189.6" r="4.5" fill="#ff7f0e" fill-opacity="0.5" stroke="#fff" stroke-width="0.75" stroke-opacity="0.5"/>
<circle cx="459.1" cy="172.9" r="4.5" fill="#ff7f0e" fill-opacity="0.5" stroke="#fff" stroke-width="0.75" stroke-opacity="0.5"/>
<circle cx="460.6" cy="173.5" r="4.5" fill="#ff7f0e" fill-opacity="0.5" stroke="#fff" stroke-width="0.75" stroke-opacity="0.5"/>
<circle cx="459.6" cy="172.0" r="4.5" fill="#ff7f0e" fill-opacity="0.5" stroke="#fff" stroke-width="0.75" stroke-opacity="0.5"/>
<circle cx="460.9" cy="181.3" r="4.5" fill="#ff7f0e" fill-opacity="0.5" stroke="#fff" stroke-width="0.75" stroke-opacity="0.5"/>
<circle cx="457.7" cy="184.0" r="4.5" fill="#ff7f0e" fill-opacity="0.5" stroke="#fff" stroke-width="0.75" stroke-opacity="0.5"/>
<circle cx="461.0" cy="179.2" r="4.5" fill="#ff7f0e" fill-opacity="0.5" stroke="#fff" stroke-width="0.75" stroke-opacity="0.5"/>
<circle cx="467.8" cy="174.2" r="4.5" fill="#ff7f0e" fill-opacity="0.5" stroke="#fff" stroke-width="0.75" stroke-opacity="0.5"/>
<circle cx="463.6" cy="178.6" r="4.5" fill="#ff7f0e" fill-opacity="0.5" stroke="#fff" stroke-width="0.75" stroke-opacity="0.5"/>
<circle cx="465.5" cy="177.0" r="4.5" fill="#ff7f0e" fill-opacity="0.5" stroke="#fff" stroke-width="0.75" stroke-opacity="0.5"/>
<circle cx="467.3" cy="183.5" r="4.5" fill="#ff7f0e" fill-opacity="0.5" stroke="#fff" stroke-width="0.75" stroke-opacity="0.5"/>
<circle cx="465.0" cy="183.6" r="4.5" fill="#ff7f0e" fill-opacity="0.5" stroke="#fff" stroke-width="0.75" stroke-opacity="0.5"/>
<circle cx="463.3" cy="186.6" r="4.5" fill="#ff7f0e" fill-opacity="0.5" stroke="#fff" stroke-width="0.75" stroke-opacity="0.5"/>
<circle cx="470.2" cy="189.2" r="4.5" fill="#ff7f0e" fill-opacity="0.5" stroke="#fff" stroke-width="0.75" stroke-opacity="0.5"/>
<circle cx="470.1" cy="188.5" r="4.5" fill="#ff7f0e" fill-opacity="0.5" stroke="#fff" stroke-width="0.75" stroke-opacity="0.5"/>
<circle cx="466.8" cy="190.3" r="4.5" fill="#ff7f0e" fill-opacity="0.5" stroke="#fff" stroke-width="0.75" stroke-opacity="0.5"/>
<circle cx="470.3" cy="166.8" r="4.5" fill="#ff7f0e" fill-opacity="0.5" stroke="#fff" stroke-width="0.75" stroke-opacity="0.5"/>
<circle cx="467.7" cy="168.9" r="4.5" fill="#ff7f0e" fill-opacity="0.5" stroke="#fff" stroke-width="0.75" stroke-opacity="0.5"/>
<circle cx="469.6" cy="168.4" r="4.5" fill="#ff7f0e" fill-opacity="0.5" stroke="#fff" stroke-width="0.75" stroke-opacity="0.5"/>
<circle cx="468.6" cy="174.4" r="4.5" fill="#ff7f0e" fill-opacity="0.5" stroke="#fff" stroke-width="0.75" stroke-opacity="0.5"/>
<circle cx="470.1" cy="175.1" r="4.5" fill="#ff7f0e" fill-opacity="0.5" stroke="#fff" stroke-width="0.75" stroke-opacity="0.5"/>
<circle cx="468.8" cy="176.1" r="4.5" fill="#ff7f0e" fill-opacity="0.5" stroke="#fff" stroke-width="0.75" stroke-opacity="0.5"/>
<circle cx="470.0" cy="184.6" r="4.5" fill="#ff7f0e" fill-opacity="0.5" stroke="#fff" stroke-width="0.75" stroke-opacity="0.5"/>
<circle cx="469.9" cy="184.1" r="4.5" fill="#ff7f0e" fill-opacity="0.5" stroke="#fff" stroke-width="0.75" stroke-opacity="0.5"/>
<circle cx="474.7" cy="184.1" r="4.5" fill="#ff7f0e" fill-opacity="0.5" stroke="#fff" stroke-width="0.75" stroke-opacity="0.5"/>
<circle cx="471.2" cy="166.9" r="4.5" fill="#ff7f0e" fill-opacity="0.5" stroke="#fff" stroke-width="0.75" stroke-opacity="0.5"/>
<circle cx="475.1" cy="166.1" r="4.5" fill="#ff7f0e" fill-opacity="0.5" stroke="#fff" stroke-width="0.75" stroke-opacity="0.5"/>
<circle cx="475.1" cy="165.2" r="4.5" fill="#ff7f0e" fill-opacity="0.5" stroke="#fff" stroke-width="0.75" stroke-opacity="0.5"/>
<circle cx="471.6" cy="172.2" r="4.5" fill="#ff7f0e" fill-opacity="0.5" stroke="#fff" stroke-width="0.75" stroke-opacity="0.5"/>
<circle cx="472.0" cy="172.6" r="4.5" fill="#ff7f0e" fill-opacity="0.5" stroke="#fff" stroke-width="0.75" stroke-opacity="0.5"/>
<circle cx="474.6" cy="170.0" r="4.5" fill="#ff7f0e" fill-opacity="0.5" stroke="#fff" stroke-width="0.75" stroke-opacity="0.5"/>
<circle cx="476.7" cy="166.2" r="4.5" fill="#ff7f0e" fill-opacity="0.5" stroke="#fff" stroke-width="0.75" stroke-opacity="0.5"/>
<circle cx="475.1" cy="167.1" r="4.5" fill="#ff7f0e" fill-opacity="0.5" stroke="#fff" stroke-width="0.75" stroke-opacity="0.5"/>
<circle cx="481.1" cy="164.6" r="4.5" fill="#ff7f0e" fill-opacity="0.5" stroke="#fff" stroke-width="0.75" stroke-opacity="0.5"/>
<circle cx="477.6" cy="174.8" r="4.5" fill="#ff7f0e" fill-opacity="0.5" stroke="#fff" stroke-width="0.75" stroke-opacity="0.5"/>
<circle cx="479.0" cy="174.4" r="4.5" fill="#ff7f0e" fill-opacity="0.5" stroke="#fff" stroke-width="0.75" stroke-opacity="0.5"/>
<circle cx="481.7" cy="173.3" r="4.5" fill="#ff7f0e" fill-opacity="0.5" stroke="#fff" stroke-width="0.75" stroke-opacity="0.5"/>
<circle cx="481.2" cy="169.2" r="4.5" fill="#ff7f0e" fill-opacity="0.5" stroke="#fff" stroke-width="0.75" stroke-opacity="0.5"/>
<circle cx="482.5" cy="167.6" r="4.5" fill="#ff7f0e" fill-opacity="0.5" stroke="#fff" stroke-width="0.75" stroke-opacity="0.5"/>
<circle cx="484.2" cy="164.3" r="4.5" fill="#ff7f0e" fill-opacity="0.5" stroke="#fff" stroke-width="0.75" stroke-opacity="0.5"/>
<circle cx="486.0" cy="161.1" r="4.5" fill="#ff7f0e" fill-opacity="0.5" stroke="#fff" stroke-width="0.75" stroke-opacity="0.5"/>
<circle cx="484.0" cy="161.5" r="4.5" fill="#ff7f0e" fill-opacity="0.5" stroke="#fff" stroke-width="0.75" stroke-opacity="0.5"/>
<circle cx="483.8" cy="160.3" r="4.5" fill="#ff7f0e" fill-opacity="0.5" stroke="#fff" stroke-width="0.75" stroke-opacity="0.5"/>
<circle cx="489.3" cy="161.5" r="4.5" fill="#ff7f0e" fill-opacity="0.5" stroke="#fff" stroke-width="0.75" stroke-opacity="0.5"/>
<circle cx="489.1" cy="164.1" r="4.5" fill="#ff7f0e" fill-opacity="0.5" stroke="#fff" stroke-width="0.75" stroke-opacity="0.5"/>
<circle cx="488.7" cy="164.0" r="4.5" fill="#ff7f0e" fill-opacity="0.5" stroke="#fff" stroke-width="0.75" stroke-opacity="0.5"/>
<circle cx="493.7" cy="157.8" r="4.5" fill="#ff7f0e" fill-opacity="0.5" stroke="#fff" stroke-width="0.75" stroke-opacity="0.5"/>
<circle cx="487.9" cy="160.2" r="4.5" fill="#ff7f0e" fill-opacity="0.5" stroke="#fff" stroke-width="0.75" stroke-opacity="0.5"/>
<circle cx="491.4" cy="156.9" r="4.5" fill="#ff7f0e" fill-opacity="0.5" stroke="#fff" stroke-width="0.75" stroke-opacity="0.5"/>
<circle cx="489.3" cy="172.0" r="4.5" fill="#ff7f0e" fill-opacity="0.5" stroke="#fff" stroke-width="0.75" stroke-opacity="0.5"/>
<circle cx="491.5" cy="174.4" r="4.5" fill="#ff7f0e" fill-opacity="0.5" stroke="#fff" stroke-width="0.75" stroke-opacity="0.5"/>
<circle cx="490.0" cy="174.9" r="4.5" fill="#ff7f0e" fill-opacity="0.5" stroke="#fff" stroke-width="0.75" stroke-opacity="0.5"/>
<circle cx="496.9" cy="155.3" r="4.5" fill="#ff7f0e" fill-opacity="0.5" stroke="#fff" stroke-width="0.75" stroke-opacity="0.5"/>
<circle cx="496.2" cy="157.1" r="4.5" fill="#ff7f0e" fill-opacity="0.5" stroke="#fff" stroke-width="0.75" stroke-opacity="0.5"/>
<circle cx="497.0" cy="155.9" r="4.5" fill="#ff7f0e" fill-opacity="0.5" stroke="#fff" stroke-width="0.75" stroke-opacity="0.5"/>
<circle cx="494.4" cy="168.9" r="4.5" fill="#ff7f0e" fill-opacity="0.5" stroke="#fff" stroke-width="0.75" stroke-opacity="0.5"/>
<circle cx="498.5" cy="167.0" r="4.5" fill="#ff7f0e" fill-opacity="0.5" stroke="#fff" stroke-width="0.75" stroke-opacity="0.5"/>
<circle cx="495.1" cy="168.3" r="4.5" fill="#ff7f0e" fill-opacity="0.5" stroke="#fff" stroke-width="0.75" stroke-opacity="0.5"/>
<circle cx="498.9" cy="159.9" r="4.5" fill="#ff7f0e" fill-opacity="0.5" stroke="#fff" stroke-width="0.75" stroke-opacity="0.5"/>
<circle cx="495.8" cy="161.3" r="4.5" fill="#ff7f0e" fill-opacity="0.5" stroke="#fff" stroke-width="0.75" stroke-opacity="0.5"/>
<circle cx="496.9" cy="161.1" r="4.5" fill="#ff7f0e" fill-opacity="0.5" stroke="#fff" stroke-width="0.75" stroke-opacity="0.5"/>
<circle cx="492.1" cy="159.2" r="4.5" fill="#ff7f0e" fill-opacity="0.5" stroke="#fff" stroke-width="0.75" stroke-opacity="0.5"/>
<circle cx="492.4" cy="158.0" r="4.5" fill="#ff7f0e" fill-opacity="0.5" stroke="#fff" stroke-width="0.75" stroke-opacity="0.5"/>
<circle cx="493.1" cy="157.1" r="4.5" fill="#ff7f0e" fill-opacity="0.5" stroke="#fff" stroke-width="0.75" stroke-opacity="0.5"/>
<circle cx="492.6" cy="166.8" r="4.5" fill="#ff7f0e" fill-opacity="0.5" stroke="#fff" stroke-width="0.75" stroke-opacity="0.5"/>
<circle cx="492.1" cy="164.7" r="4.5" fill="#ff7f0e" fill-opacity="0.5" stroke="#fff" stroke-width="0.75" stroke-opacity="0.5"/>
<circle cx="495.6" cy="165.1" r="4.5" fill="#ff7f0e" fill-opacity="0.5" stroke="#fff" stroke-width="0.75" stroke-opacity="0.5"/>
<circle cx="496.2" cy="155.5" r="4.5" fill="#ff7f0e" fill-opacity="0.5" stroke="#fff" stroke-width="0.75" stroke-opacity="0.5"/>
<circle cx="497.3" cy="155.9" r="4.5" fill="#ff7f0e" fill-opacity="0.5" stroke="#fff" stroke-width="0.75" stroke-opacity="0.5"/>
<circle cx="495.2" cy="154.6" r="4.5" fill="#ff7f0e" fill-opacity="0.5" stroke="#fff" stroke-width="0.75" stroke-opacity="0.5"/>
<circle cx="496.5" cy="164.2" r="4.5" fill="#ff7f0e" fill-opacity="0.5" stroke="#fff" stroke-width="0.75" stroke-opacity="0.5"/>
<circle cx="496.0" cy="163.1" r="4.5" fill="#ff7f0e" fill-opacity="0.5" stroke="#fff" stroke-width="0.75" stroke-opacity="0.5"/>
<circle cx="496.4" cy="161.9" r="4.5" fill="#ff7f0e" fill-opacity="0.5" stroke="#fff" stroke-width="0.75" stroke-opacity="0.5"/>
<circle cx="499.8" cy="153.5" r="4.5" fill="#ff7f0e" fill-opacity="0.5" stroke="#fff" stroke-width="0.75" stroke-opacity="0.5"/>
<circle cx="499.8" cy="152.4" r="4.5" fill="#ff7f0e" fill-opacity="0.5" stroke="#fff" stroke-width="0.75" stroke-opacity="0.5"/>
<circle cx="499.8" cy="153.8" r="4.5" fill="#ff7f0e" fill-opacity="0.5" stroke="#fff" stroke-width="0.75" stroke-opacity="0.5"/>
<circle cx="501.1" cy="158.0" r="4.5" fill="#ff7f0e" fill-opacity="0.5" stroke="#fff" stroke-width="0.75" stroke-opacity="0.5"/>
<circle cx="503.8" cy="158.2" r="4.5" fill="#ff7f0e" fill-opacity="0.5" stroke="#fff" stroke-width="0.75" stroke-opacity="0.5"/>
<circle cx="505.6" cy="155.9" r="4.5" fill="#ff7f0e" fill-opacity="0.5" stroke="#fff" stroke-width="0.75" stroke-opacity="0.5"/>
<circle cx="506.4" cy="150.5" r="4.5" fill="#ff7f0e" fill-opacity="0.5" stroke="#fff" stroke-width="0.75" stroke-opacity="0.5"/>
<circle cx="503.8" cy="154.1" r="4.5" fill="#ff7f0e" fill-opacity="0.5" stroke="#fff" stroke-width="0.75" stroke-opacity="0.5"/>
<circle cx="505.1" cy="150.0" r="4.5" fill="#ff7f0e" fill-opacity="0.5" stroke="#fff" stroke-width="0.75" stroke-opacity="0.5"/>
<circle cx="509.7" cy="152.9" r="4.5" fill="#ff7f0e" fill-opacity="0.5" stroke="#fff" stroke-width="0.75" stroke-opacity="0.5"/>
<circle cx="510.8" cy="153.2" r="4.5" fill="#ff7f0e" fill-opacity="0.5" stroke="#fff" stroke-width="0.75" stroke-opacity="0.5"/>
<circle cx="507.3" cy="153.7" r="4.5" fill="#ff7f0e" fill-opacity="0.5" stroke="#fff" stroke-width="0.75" stroke-opacity="0.5"/>
<circle cx="514.4" cy="147.5" r="4.5" fill="#ff7f0e" fill-opacity="0.5" stroke="#fff" stroke-width="0.75" stroke-opacity="0.5"/>
<circle cx="514.8" cy="148.1" r="4.5" fill="#ff7f0e" fill-opacity="0.5" stroke="#fff" stroke-width="0.75" stroke-opacity="0.5"/>
<circle cx="515.8" cy="146.9" r="4.5" fill="#ff7f0e" fill-opacity="0.5" stroke="#fff" stroke-width="0.75" stroke-opacity="0.5"/>
<circle cx="515.3" cy="151.2" r="4.5" fill="#ff7f0e" fill-opacity="0.5" stroke="#fff" stroke-width="0.75" stroke-opacity="0.5"/>
<circle cx="519.3" cy="150.7" r="4.5" fill="#ff7f0e" fill-opacity="0.5" stroke="#fff" stroke-width="0.75" stroke-opacity="0.5"/>
<circle cx="516.0" cy="150.2" r="4.5" fill="#ff7f0e" fill-opacity="0.5" stroke="#fff" stroke-width="0.75" stroke-opacity="0.5"/>
<circle cx="519.8" cy="147.5" r="4.5" fill="#ff7f0e" fill-opacity="0.5" stroke="#fff" stroke-width="0.75" stroke-opacity="0.5"/>
<circle cx="519.1" cy="144.0" r="4.5" fill="#ff7f0e" fill-opacity="0.5" stroke="#fff" stroke-width="0.75" stroke-opacity="0.5"/>
<circle cx="515.2" cy="146.3" r="4.5" fill="#ff7f0e" fill-opacity="0.5" stroke="#fff" stroke-width="0.75" stroke-opacity="0.5"/>
<circle cx="520.5" cy="147.0" r="4.5" fill="#ff7f0e" fill-opacity="0.5" stroke="#fff" stroke-width="0.75" stroke-opacity="0.5"/>
<circle cx="519.7" cy="149.9" r="4.5" fill="#ff7f0e" fill-opacity="0.5" stroke="#fff" stroke-width="0.75" stroke-opacity="0.5"/>
<circle cx="525.6" cy="145.1" r="4.5" fill="#ff7f0e" fill-opacity="0.5" stroke="#fff" stroke-width="0.75" stroke-opacity="0.5"/>
<circle cx="528.9" cy="141.0" r="4.5" fill="#ff7f0e" fill-opacity="0.5" stroke="#fff" stroke-width="0.75" stroke-opacity="0.5"/>
<circle cx="527.7" cy="143.4" r="4.5" fill="#ff7f0e" fill-opacity="0.5" stroke="#fff" stroke-width="0.75" stroke-opacity="0.5"/>
<circle cx="528.7" cy="139.4" r="4.5" fill="#ff7f0e" fill-opacity="0.5" stroke="#fff" stroke-width="0.75" stroke-opacity="0.5"/>
<circle cx="528.5" cy="142.4" r="4.5" fill="#ff7f0e" fill-opacity="0.5" stroke="#fff" stroke-width="0.75" stroke-opacity="0.5"/>
<circle cx="533.0" cy="138.1" r="4.5" fill="#ff7f0e" fill-opacity="0.5" stroke="#fff" stroke-width="0.75" stroke-opacity="0.5"/>
<circle cx="528.5" cy="143.4" r="4.5" fill="#ff7f0e" fill-opacity="0.5" stroke="#fff" stroke-width="0.75" stroke-opacity="0.5"/>
<circle cx="528.6" cy="146.5" r="4.5" fill="#ff7f0e" fill-opacity="0.5" stroke="#fff" stroke-width="0.75" stroke-opacity="0.5"/>
<circle cx="530.1" cy="146.9" r="4.5" fill="#ff7f0e" fill-opacity="0.5" stroke="#fff" stroke-width="0.75" stroke-opacity="0.5"/>
<circle cx="534.3" cy="142.8" r="4.5" fill="#ff7f0e" fill-opacity="0.5" stroke="#fff" stroke-width="0.75" stroke-opacity="0.5"/>
<circle cx="537.3" cy="146.4" r="4.5" fill="#ff7f0e" fill-opacity="0.5" stroke="#fff" stroke-width="0.75" stroke-opacity="0.5"/>
<circle cx="537.9" cy="145.3" r="4.5" fill="#ff7f0e" fill-opacity="0.5" stroke="#fff" stroke-width="0.75" stroke-opacity="0.5"/>
<circle cx="538.6" cy="144.3" r="4.5" fill="#ff7f0e" fill-opacity="0.5" stroke="#fff" stroke-width="0.75" stroke-opacity="0.5"/>
<circle cx="535.7" cy="137.0" r="4.5" fill="#ff7f0e" fill-opacity="0.5" stroke="#fff" stroke-width="0.75" stroke-opacity="0.5"/>
<circle cx="538.3" cy="136.7" r="4.5" fill="#ff7f0e" fill-opacity="0.5" stroke="#fff" stroke-width="0.75" stroke-opacity="0.5"/>
<circle cx="534.7" cy="137.3" r="4.5" fill="#ff7f0e" fill-opacity="0.5" stroke="#fff" stroke-width="0.75" stroke-opacity="0.5"/>
<circle cx="541.4" cy="139.6" r="4.5" fill="#ff7f0e" fill-opacity="0.5" stroke="#fff" stroke-width="0.75" stroke-opacity="0.5"/>
<circle cx="541.4" cy="138.7" r="4.5" fill="#ff7f0e" fill-opacity="0.5" stroke="#fff" stroke-width="0.75" stroke-opacity="0.5"/>
<circle cx="539.8" cy="138.6" r="4.5" fill="#ff7f0e" fill-opacity="0.5" stroke="#fff" stroke-width="0.75" stroke-opacity="0.5"/>
<circle cx="542.8" cy="140.9" r="4.5" fill="#ff7f0e" fill-opacity="0.5" stroke="#fff" stroke-width="0.75" stroke-opacity="0.5"/>
<circle cx="541.1" cy="144.6" r="4.5" fill="#ff7f0e" fill-opacity="0.5" stroke="#fff" stroke-width="0.75" stroke-opacity="0.5"/>
<circle cx="542.5" cy="141.3" r="4.5" fill="#ff7f0e" fill-opacity="0.5" stroke="#fff" stroke-width="0.75" stroke-opacity="0.5"/>
<circle cx="543.8" cy="136.5" r="4.5" fill="#ff7f0e" fill-opacity="0.5" stroke="#fff" stroke-width="0.75" stroke-opacity="0.5"/>
<circle cx="546.6" cy="135.2" r="4.5" fill="#ff7f0e" fill-opacity="0.5" stroke="#fff" stroke-width="0.75" stroke-opacity="0.5"/>
<circle cx="548.2" cy="132.7" r="4.5" fill="#ff7f0e" fill-opacity="0.5" stroke="#fff" stroke-width="0.75" stroke-opacity="0.5"/>
<circle cx="551.2" cy="137.3" r="4.5" fill="#ff7f0e" fill-opacity="0.5" stroke="#fff" stroke-width="0.75" stroke-opacity="0.5"/>
<circle cx="547.2" cy="137.9" r="4.5" fill="#ff7f0e" fill-opacity="0.5" stroke="#fff" stroke-width="0.75" stroke-opacity="0.5"/>
<circle cx="545.4" cy="138.9" r="4.5" fill="#ff7f0e" fill-opacity="0.5" stroke="#fff" stroke-width="0.75" stroke-opacity="0.5"/>
<circle cx="554.5" cy="137.4" r="4.5" fill="#ff7f0e" fill-opacity="0.5" stroke="#fff" stroke-width="0.75" stroke-opacity="0.5"/>
<circle cx="551.8" cy="138.8" r="4.5" fill="#ff7f0e" fill-opacity="0.5" stroke="#fff" stroke-width="0.75" stroke-opacity="0.5"/>
<circle cx="548.4" cy="142.7" r="4.5" fill="#ff7f0e" fill-opacity="0.5" stroke="#fff" stroke-width="0.75" stroke-opacity="0.5"/>
<circle cx="550.9" cy="131.2" r="4.5" fill="#ff7f0e" fill-opacity="0.5" stroke="#fff" stroke-width="0.75" stroke-opacity="0.5"/>
<circle cx="550.3" cy="133.9" r="4.5" fill="#ff7f0e" fill-opacity="0.5" stroke="#fff" stroke-width="0.75" stroke-opacity="0.5"/>
<circle cx="553.3" cy="129.8" r="4.5" fill="#ff7f0e" fill-opacity="0.5" stroke="#fff" stroke-width="0.75" stroke-opacity="0.5"/>
<circle cx="553.6" cy="137.0" r="4.5" fill="#ff7f0e" fill-opacity="0.5" stroke="#fff" stroke-width="0.75" stroke-opacity="0.5"/>
<circle cx="553.5" cy="135.4" r="4.5" fill="#ff7f0e" fill-opacity="0.5" stroke="#fff" stroke-width="0.75" stroke-opacity="0.5"/>
<circle cx="554.9" cy="135.6" r="4.5" fill="#ff7f0e" fill-opacity="0.5" stroke="#fff" stroke-width="0.75" stroke-opacity="0.5"/>
<circle cx="560.5" cy="130.7" r="4.5" fill="#ff7f0e" fill-opacity="0.5" stroke="#fff" stroke-width="0.75" stroke-opacity="0.5"/>
<circle cx="560.0" cy="128.5" r="4.5" fill="#ff7f0e" fill-opacity="0.5" stroke="#fff" stroke-width="0.75" stroke-opacity="0.5"/>
<circle cx="557.5" cy="129.3" r="4.5" fill="#ff7f0e" fill-opacity="0.5" stroke="#fff" stroke-width="0.75" stroke-opacity="0.5"/>
<circle cx="563.5" cy="132.9" r="4.5" fill="#ff7f0e" fill-opacity="0.5" stroke="#fff" stroke-width="0.75" stroke-opacity="0.5"/>
<circle cx="557.9" cy="139.1" r="4.5" fill="#ff7f0e" fill-opacity="0.5" stroke="#fff" stroke-width="0.75" stroke-opacity="0.5"/>
<circle cx="559.1" cy="138.2" r="4.5" fill="#ff7f0e" fill-opacity="0.5" stroke="#fff" stroke-width="0.75" stroke-opacity="0.5"/>
<circle cx="561.9" cy="129.8" r="4.5" fill="#ff7f0e" fill-opacity="0.5" stroke="#fff" stroke-width="0.75" stroke-opacity="0.5"/>
<circle cx="562.9" cy="130.8" r="4.5" fill="#ff7f0e" fill-opacity="0.5" stroke="#fff" stroke-width="0.75" stroke-opacity="0.5"/>
<circle cx="565.6" cy="128.7" r="4.5" fill="#ff7f0e" fill-opacity="0.5" stroke="#fff" stroke-width="0.75" stroke-opacity="0.5"/>
<circle cx="570.1" cy="132.0" r="4.5" fill="#ff7f0e" fill-opacity="0.5" stroke="#fff" stroke-width="0.75" stroke-opacity="0.5"/>
<circle cx="567.2" cy="132.4" r="4.5" fill="#ff7f0e" fill-opacity="0.5" stroke="#fff" stroke-width="0.75" stroke-opacity="0.5"/>
<circle cx="567.9" cy="130.0" r="4.5" fill="#ff7f0e" fill-opacity="0.5" stroke="#fff" stroke-width="0.75" stroke-opacity="0.5"/>
<circle cx="574.2" cy="124.9" r="4.5" fill="#ff7f0e" fill-opacity="0.5" stroke="#fff" stroke-width="0.75" stroke-opacity="0.5"/>
<circle cx="574.1" cy="123.4" r="4.5" fill="#ff7f0e" fill-opacity="0.5" stroke="#fff" stroke-width="0.75" stroke-opacity="0.5"/>
<circle cx="572.2" cy="125.4" r="4.5" fill="#ff7f0e" fill-opacity="0.5" stroke="#fff" stroke-width="0.75" stroke-opacity="0.5"/>
<circle cx="575.6" cy="126.0" r="4.5" fill="#ff7f0e" fill-opacity="0.5" stroke="#fff" stroke-width="0.75" stroke-opacity="0.5"/>
<circle cx="572.9" cy="129.0" r="4.5" fill="#ff7f0e" fill-opacity="0.5" stroke="#fff" stroke-width="0.75" stroke-opacity="0.5"/>
<circle cx="571.0" cy="130.2" r="4.5" fill="#ff7f0e" fill-opacity="0.5" stroke="#fff" stroke-width="0.75" stroke-opacity="0.5"/>
<circle cx="563.0" cy="135.9" r="4.5" fill="#ff7f0e" fill-opacity="0.5" stroke="#fff" stroke-width="0.75" stroke-opacity="0.5"/>
<circle cx="562.4" cy="136.9" r="4.5" fill="#ff7f0e" fill-opacity="0.5" stroke="#fff" stroke-width="0.75" stroke-opacity="0.5"/>
<circle cx="559.4" cy="137.4" r="4.5" fill="#ff7f0e" fill-opacity="0.5" stroke="#fff" stroke-width="0.75" stroke-opacity="0.5"/>
<circle cx="567.8" cy="126.1" r="4.5" fill="#ff7f0e" fill-opacity="0.5" stroke="#fff" stroke-width="0.75" stroke-opacity="0.5"/>
<circle cx="563.8" cy="127.1" r="4.5" fill="#ff7f0e" fill-opacity="0.5" stroke="#fff" stroke-width="0.75" stroke-opacity="0.5"/>
<circle cx="562.3" cy="128.1" r="4.5" fill="#ff7f0e" fill-opacity="0.5" stroke="#fff" stroke-width="0.75" stroke-opacity="0.5"/>
<circle cx="572.3" cy="130.7" r="4.5" fill="#ff7f0e" fill-opacity="0.5" stroke="#fff" stroke-width="0.75" stroke-opacity="0.5"/>
<circle cx="571.9" cy="131.9" r="4.5" fill="#ff7f0e" fill-opacity="0.5" stroke="#fff" stroke-width="0.75" stroke-opacity="0.5"/>
<circle cx="570.1" cy="132.6" r="4.5" fill="#ff7f0e" fill-opacity="0.5" stroke="#fff" stroke-width="0.75" stroke-opacity="0.5"/>
<circle cx="571.7" cy="124.4" r="4.5" fill="#ff7f0e" fill-opacity="0.5" stroke="#fff" stroke-width="0.75" stroke-opacity="0.5"/>
<circle cx="574.5" cy="124.9" r="4.5" fill="#ff7f0e" fill-opacity="0.5" stroke="#fff" stroke-width="0.75" stroke-opacity="0.5"/>
<circle cx="574.5" cy="123.3" r="4.5" fill="#ff7f0e" fill-opacity="0.5" stroke="#fff" stroke-width="0.75" stroke-opacity="0.5"/>
<circle cx="576.1" cy="125.0" r="4.5" fill="#ff7f0e" fill-opacity="0.5" stroke="#fff" stroke-width="0.75" stroke-opacity="0.5"/>
<circle cx="577.7" cy="126.2" r="4.5" fill="#ff7f0e" fill-opacity="0.5" stroke="#fff" stroke-width="0.75" stroke-opacity="0.5"/>
<circle cx="572.7" cy="128.8" r="4.5" fill="#ff7f0e" fill-opacity="0.5" stroke="#fff" stroke-width="0.75" stroke-opacity="0.5"/>
<circle cx="260.0" cy="276.6" r="4.5" fill="#ff7f0e" fill-opacity="0.5" stroke="#fff" stroke-width="0.75" stroke-opacity="0.5"/>
<circle cx="274.9" cy="277.0" r="4.5" fill="#ff7f0e" fill-opacity="0.5" stroke="#fff" stroke-width="0.75" stroke-opacity="0.5"/>
<circle cx="276.4" cy="272.7" r="4.5" fill="#ff7f0e" fill-opacity="0.5" stroke="#fff" stroke-width="0.75" stroke-opacity="0.5"/>
<circle cx="277.1" cy="266.3" r="4.5" fill="#ff7f0e" fill-opacity="0.5" stroke="#fff" stroke-width="0.75" stroke-opacity="0.5"/>
<circle cx="282.1" cy="266.3" r="4.5" fill="#ff7f0e" fill-opacity="0.5" stroke="#fff" stroke-width="0.75" stroke-opacity="0.5"/>
<circle cx="286.3" cy="264.9" r="4.5" fill="#ff7f0e" fill-opacity="0.5" stroke="#fff" stroke-width="0.75" stroke-opacity="0.5"/>
<circle cx="291.3" cy="262.7" r="4.5" fill="#ff7f0e" fill-opacity="0.5" stroke="#fff" stroke-width="0.75" stroke-opacity="0.5"/>
<circle cx="292.7" cy="266.3" r="4.5" fill="#ff7f0e" fill-opacity="0.5" stroke="#fff" stroke-width="0.75" stroke-opacity="0.5"/>
<circle cx="297.0" cy="267.7" r="4.5" fill="#ff7f0e" fill-opacity="0.5" stroke="#fff" stroke-width="0.75" stroke-opacity="0.5"/>
<circle cx="298.4" cy="263.5" r="4.5" fill="#ff7f0e" fill-opacity="0.5" stroke="#fff" stroke-width="0.75" stroke-opacity="0.5"/>
<circle cx="299.9" cy="255.6" r="4.5" fill="#ff7f0e" fill-opacity="0.5" stroke="#fff" stroke-width="0.75" stroke-opacity="0.5"/>
<circle cx="304.8" cy="252.8" r="4.5" fill="#ff7f0e" fill-opacity="0.5" stroke="#fff" stroke-width="0.75" stroke-opacity="0.5"/>
<circle cx="306.3" cy="260.6" r="4.5" fill="#ff7f0e" fill-opacity="0.5" stroke="#fff" stroke-width="0.75" stroke-opacity="0.5"/>
<circle cx="309.8" cy="251.4" r="4.5" fill="#ff7f0e" fill-opacity="0.5" stroke="#fff" stroke-width="0.75" stroke-opacity="0.5"/>
<circle cx="311.3" cy="259.2" r="4.5" fill="#ff7f0e" fill-opacity="0.5" stroke="#fff" stroke-width="0.75" stroke-opacity="0.5"/>
<circle cx="314.8" cy="246.4" r="4.5" fill="#ff7f0e" fill-opacity="0.5" stroke="#fff" stroke-width="0.75" stroke-opacity="0.5"/>
<circle cx="316.9" cy="252.1" r="4.5" fill="#ff7f0e" fill-opacity="0.5" stroke="#fff" stroke-width="0.75" stroke-opacity="0.5"/>
<circle cx="315.5" cy="264.9" r="4.5" fill="#ff7f0e" fill-opacity="0.5" stroke="#fff" stroke-width="0.75" stroke-opacity="0.5"/>
<circle cx="318.4" cy="261.3" r="4.5" fill="#ff7f0e" fill-opacity="0.5" stroke="#fff" stroke-width="0.75" stroke-opacity="0.5"/>
<circle cx="324.1" cy="244.2" r="4.5" fill="#ff7f0e" fill-opacity="0.5" stroke="#fff" stroke-width="0.75" stroke-opacity="0.5"/>
<circle cx="321.2" cy="248.5" r="4.5" fill="#ff7f0e" fill-opacity="0.5" stroke="#fff" stroke-width="0.75" stroke-opacity="0.5"/>
<circle cx="335.5" cy="238.5" r="4.5" fill="#ff7f0e" fill-opacity="0.5" stroke="#fff" stroke-width="0.75" stroke-opacity="0.5"/>
<circle cx="339.0" cy="235.7" r="4.5" fill="#ff7f0e" fill-opacity="0.5" stroke="#fff" stroke-width="0.75" stroke-opacity="0.5"/>
<circle cx="333.6" cy="237.7" r="4.5" fill="#ff7f0e" fill-opacity="0.5" stroke="#fff" stroke-width="0.75" stroke-opacity="0.5"/>
<circle cx="338.5" cy="235.6" r="4.5" fill="#ff7f0e" fill-opacity="0.5" stroke="#fff" stroke-width="0.75" stroke-opacity="0.5"/>
<circle cx="342.8" cy="243.4" r="4.5" fill="#ff7f0e" fill-opacity="0.5" stroke="#fff" stroke-width="0.75" stroke-opacity="0.5"/>
<circle cx="342.1" cy="234.2" r="4.5" fill="#ff7f0e" fill-opacity="0.5" stroke="#fff" stroke-width="0.75" stroke-opacity="0.5"/>
<circle cx="347.1" cy="232.7" r="4.5" fill="#ff7f0e" fill-opacity="0.5" stroke="#fff" stroke-width="0.75" stroke-opacity="0.5"/>
<circle cx="351.4" cy="230.6" r="4.5" fill="#ff7f0e" fill-opacity="0.5" stroke="#fff" stroke-width="0.75" stroke-opacity="0.5"/>
<circle cx="355.6" cy="225.6" r="4.5" fill="#ff7f0e" fill-opacity="0.5" stroke="#fff" stroke-width="0.75" stroke-opacity="0.5"/>
<circle cx="356.4" cy="232.7" r="4.5" fill="#ff7f0e" fill-opacity="0.5" stroke="#fff" stroke-width="0.75" stroke-opacity="0.5"/>
<circle cx="359.9" cy="228.5" r="4.5" fill="#ff7f0e" fill-opacity="0.5" stroke="#fff" stroke-width="0.75" stroke-opacity="0.5"/>
<circle cx="360.6" cy="235.6" r="4.5" fill="#ff7f0e" fill-opacity="0.5" stroke="#fff" stroke-width="0.75" stroke-opacity="0.5"/>
<circle cx="359.2" cy="241.3" r="4.5" fill="#ff7f0e" fill-opacity="0.5" stroke="#fff" stroke-width="0.75" stroke-opacity="0.5"/>
<circle cx="364.2" cy="231.3" r="4.5" fill="#ff7f0e" fill-opacity="0.5" stroke="#fff" stroke-width="0.75" stroke-opacity="0.5"/>
<circle cx="364.9" cy="224.2" r="4.5" fill="#ff7f0e" fill-opacity="0.5" stroke="#fff" stroke-width="0.75" stroke-opacity="0.5"/>
<circle cx="368.5" cy="227.0" r="4.5" fill="#ff7f0e" fill-opacity="0.5" stroke="#fff" stroke-width="0.75" stroke-opacity="0.5"/>
<circle cx="370.6" cy="217.8" r="4.5" fill="#ff7f0e" fill-opacity="0.5" stroke="#fff" stroke-width="0.75" stroke-opacity="0.5"/>
<circle cx="372.7" cy="223.5" r="4.5" fill="#ff7f0e" fill-opacity="0.5" stroke="#fff" stroke-width="0.75" stroke-opacity="0.5"/>
<circle cx="375.6" cy="217.1" r="4.5" fill="#ff7f0e" fill-opacity="0.5" stroke="#fff" stroke-width="0.75" stroke-opacity="0.5"/>
<circle cx="377.0" cy="222.1" r="4.5" fill="#ff7f0e" fill-opacity="0.5" stroke="#fff" stroke-width="0.75" stroke-opacity="0.5"/>
<circle cx="379.9" cy="216.4" r="4.5" fill="#ff7f0e" fill-opacity="0.5" stroke="#fff" stroke-width="0.75" stroke-opacity="0.5"/>
<circle cx="382.0" cy="212.8" r="4.5" fill="#ff7f0e" fill-opacity="0.5" stroke="#fff" stroke-width="0.75" stroke-opacity="0.5"/>
<circle cx="384.8" cy="218.5" r="4.5" fill="#ff7f0e" fill-opacity="0.5" stroke="#fff" stroke-width="0.75" stroke-opacity="0.5"/>
<circle cx="387.0" cy="212.8" r="4.5" fill="#ff7f0e" fill-opacity="0.5" stroke="#fff" stroke-width="0.75" stroke-opacity="0.5"/>
<circle cx="389.8" cy="214.9" r="4.5" fill="#ff7f0e" fill-opacity="0.5" stroke="#fff" stroke-width="0.75" stroke-opacity="0.5"/>
<circle cx="393.4" cy="211.4" r="4.5" fill="#ff7f0e" fill-opacity="0.5" stroke="#fff" stroke-width="0.75" stroke-opacity="0.5"/>
<circle cx="396.2" cy="217.1" r="4.5" fill="#ff7f0e" fill-opacity="0.5" stroke="#fff" stroke-width="0.75" stroke-opacity="0.5"/>
<circle cx="398.4" cy="212.8" r="4.5" fill="#ff7f0e" fill-opacity="0.5" stroke="#fff" stroke-width="0.75" stroke-opacity="0.5"/>
<circle cx="401.9" cy="212.1" r="4.5" fill="#ff7f0e" fill-opacity="0.5" stroke="#fff" stroke-width="0.75" stroke-opacity="0.5"/>
<circle cx="409.1" cy="200.7" r="4.5" fill="#ff7f0e" fill-opacity="0.5" stroke="#fff" stroke-width="0.75" stroke-opacity="0.5"/>
<circle cx="412.6" cy="217.1" r="4.5" fill="#ff7f0e" fill-opacity="0.5" stroke="#fff" stroke-width="0.75" stroke-opacity="0.5"/>
<circle cx="409.8" cy="205.7" r="4.5" fill="#ff7f0e" fill-opacity="0.5" stroke="#fff" stroke-width="0.75" stroke-opacity="0.5"/>
<circle cx="415.5" cy="198.5" r="4.5" fill="#ff7f0e" fill-opacity="0.5" stroke="#fff" stroke-width="0.75" stroke-opacity="0.5"/>
<circle cx="416.9" cy="207.1" r="4.5" fill="#ff7f0e" fill-opacity="0.5" stroke="#fff" stroke-width="0.75" stroke-opacity="0.5"/>
<circle cx="419.0" cy="195.7" r="4.5" fill="#ff7f0e" fill-opacity="0.5" stroke="#fff" stroke-width="0.75" stroke-opacity="0.5"/>
<circle cx="412.1" cy="198.4" r="4.5" fill="#ff7f0e" fill-opacity="0.5" stroke="#fff" stroke-width="0.75" stroke-opacity="0.5"/>
<circle cx="415.7" cy="195.6" r="4.5" fill="#ff7f0e" fill-opacity="0.5" stroke="#fff" stroke-width="0.75" stroke-opacity="0.5"/>
<circle cx="414.3" cy="204.1" r="4.5" fill="#ff7f0e" fill-opacity="0.5" stroke="#fff" stroke-width="0.75" stroke-opacity="0.5"/>
<circle cx="420.0" cy="192.7" r="4.5" fill="#ff7f0e" fill-opacity="0.5" stroke="#fff" stroke-width="0.75" stroke-opacity="0.5"/>
<circle cx="421.4" cy="199.9" r="4.5" fill="#ff7f0e" fill-opacity="0.5" stroke="#fff" stroke-width="0.75" stroke-opacity="0.5"/>
<circle cx="418.5" cy="207.0" r="4.5" fill="#ff7f0e" fill-opacity="0.5" stroke="#fff" stroke-width="0.75" stroke-opacity="0.5"/>
<circle cx="425.7" cy="189.9" r="4.5" fill="#ff7f0e" fill-opacity="0.5" stroke="#fff" stroke-width="0.75" stroke-opacity="0.5"/>
<circle cx="427.1" cy="197.0" r="4.5" fill="#ff7f0e" fill-opacity="0.5" stroke="#fff" stroke-width="0.75" stroke-opacity="0.5"/>
<circle cx="425.7" cy="204.1" r="4.5" fill="#ff7f0e" fill-opacity="0.5" stroke="#fff" stroke-width="0.75" stroke-opacity="0.5"/>
<circle cx="431.4" cy="187.0" r="4.5" fill="#ff7f0e" fill-opacity="0.5" stroke="#fff" stroke-width="0.75" stroke-opacity="0.5"/>
<circle cx="432.8" cy="194.2" r="4.5" fill="#ff7f0e" fill-opacity="0.5" stroke="#fff" stroke-width="0.75" stroke-opacity="0.5"/>
<circle cx="431.4" cy="202.7" r="4.5" fill="#ff7f0e" fill-opacity="0.5" stroke="#fff" stroke-width="0.75" stroke-opacity="0.5"/>
<circle cx="437.1" cy="184.9" r="4.5" fill="#ff7f0e" fill-opacity="0.5" stroke="#fff" stroke-width="0.75" stroke-opacity="0.5"/>
<circle cx="439.9" cy="184.2" r="4.5" fill="#ff7f0e" fill-opacity="0.5" stroke="#fff" stroke-width="0.75" stroke-opacity="0.5"/>
<circle cx="448.5" cy="183.5" r="4.5" fill="#ff7f0e" fill-opacity="0.5" stroke="#fff" stroke-width="0.75" stroke-opacity="0.5"/>
<circle cx="451.3" cy="178.5" r="4.5" fill="#ff7f0e" fill-opacity="0.5" stroke="#fff" stroke-width="0.75" stroke-opacity="0.5"/>
<circle cx="449.9" cy="189.9" r="4.5" fill="#ff7f0e" fill-opacity="0.5" stroke="#fff" stroke-width="0.75" stroke-opacity="0.5"/>
<circle cx="455.6" cy="175.6" r="4.5" fill="#ff7f0e" fill-opacity="0.5" stroke="#fff" stroke-width="0.75" stroke-opacity="0.5"/>
<circle cx="458.4" cy="191.3" r="4.5" fill="#ff7f0e" fill-opacity="0.5" stroke="#fff" stroke-width="0.75" stroke-opacity="0.5"/>
<circle cx="459.1" cy="173.5" r="4.5" fill="#ff7f0e" fill-opacity="0.5" stroke="#fff" stroke-width="0.75" stroke-opacity="0.5"/>
<circle cx="459.9" cy="181.3" r="4.5" fill="#ff7f0e" fill-opacity="0.5" stroke="#fff" stroke-width="0.75" stroke-opacity="0.5"/>
<circle cx="464.8" cy="177.1" r="4.5" fill="#ff7f0e" fill-opacity="0.5" stroke="#fff" stroke-width="0.75" stroke-opacity="0.5"/>
<circle cx="466.3" cy="184.2" r="4.5" fill="#ff7f0e" fill-opacity="0.5" stroke="#fff" stroke-width="0.75" stroke-opacity="0.5"/>
<circle cx="468.4" cy="189.9" r="4.5" fill="#ff7f0e" fill-opacity="0.5" stroke="#fff" stroke-width="0.75" stroke-opacity="0.5"/>
<circle cx="467.7" cy="169.9" r="4.5" fill="#ff7f0e" fill-opacity="0.5" stroke="#fff" stroke-width="0.75" stroke-opacity="0.5"/>
<circle cx="469.8" cy="174.2" r="4.5" fill="#ff7f0e" fill-opacity="0.5" stroke="#fff" stroke-width="0.75" stroke-opacity="0.5"/>
<circle cx="472.7" cy="184.2" r="4.5" fill="#ff7f0e" fill-opacity="0.5" stroke="#fff" stroke-width="0.75" stroke-opacity="0.5"/>
<circle cx="473.4" cy="165.7" r="4.5" fill="#ff7f0e" fill-opacity="0.5" stroke="#fff" stroke-width="0.75" stroke-opacity="0.5"/>
<circle cx="474.1" cy="171.4" r="4.5" fill="#ff7f0e" fill-opacity="0.5" stroke="#fff" stroke-width="0.75" stroke-opacity="0.5"/>
<circle cx="478.4" cy="164.2" r="4.5" fill="#ff7f0e" fill-opacity="0.5" stroke="#fff" stroke-width="0.75" stroke-opacity="0.5"/>
<circle cx="478.4" cy="174.2" r="4.5" fill="#ff7f0e" fill-opacity="0.5" stroke="#fff" stroke-width="0.75" stroke-opacity="0.5"/>
<circle cx="482.6" cy="167.1" r="4.5" fill="#ff7f0e" fill-opacity="0.5" stroke="#fff" stroke-width="0.75" stroke-opacity="0.5"/>
<circle cx="484.1" cy="161.4" r="4.5" fill="#ff7f0e" fill-opacity="0.5" stroke="#fff" stroke-width="0.75" stroke-opacity="0.5"/>
<circle cx="489.1" cy="163.5" r="4.5" fill="#ff7f0e" fill-opacity="0.5" stroke="#fff" stroke-width="0.75" stroke-opacity="0.5"/>
<circle cx="490.5" cy="157.8" r="4.5" fill="#ff7f0e" fill-opacity="0.5" stroke="#fff" stroke-width="0.75" stroke-opacity="0.5"/>
<circle cx="491.2" cy="172.8" r="4.5" fill="#ff7f0e" fill-opacity="0.5" stroke="#fff" stroke-width="0.75" stroke-opacity="0.5"/>
<circle cx="495.5" cy="155.7" r="4.5" fill="#ff7f0e" fill-opacity="0.5" stroke="#fff" stroke-width="0.75" stroke-opacity="0.5"/>
<circle cx="495.5" cy="167.1" r="4.5" fill="#ff7f0e" fill-opacity="0.5" stroke="#fff" stroke-width="0.75" stroke-opacity="0.5"/>
<circle cx="499.0" cy="161.4" r="4.5" fill="#ff7f0e" fill-opacity="0.5" stroke="#fff" stroke-width="0.75" stroke-opacity="0.5"/>
<circle cx="492.1" cy="158.4" r="4.5" fill="#ff7f0e" fill-opacity="0.5" stroke="#fff" stroke-width="0.75" stroke-opacity="0.5"/>
<circle cx="492.8" cy="165.6" r="4.5" fill="#ff7f0e" fill-opacity="0.5" stroke="#fff" stroke-width="0.75" stroke-opacity="0.5"/>
<circle cx="497.1" cy="155.6" r="4.5" fill="#ff7f0e" fill-opacity="0.5" stroke="#fff" stroke-width="0.75" stroke-opacity="0.5"/>
<circle cx="498.5" cy="162.0" r="4.5" fill="#ff7f0e" fill-opacity="0.5" stroke="#fff" stroke-width="0.75" stroke-opacity="0.5"/>
<circle cx="502.1" cy="152.7" r="4.5" fill="#ff7f0e" fill-opacity="0.5" stroke="#fff" stroke-width="0.75" stroke-opacity="0.5"/>
<circle cx="504.2" cy="158.4" r="4.5" fill="#ff7f0e" fill-opacity="0.5" stroke="#fff" stroke-width="0.75" stroke-opacity="0.5"/>
<circle cx="507.1" cy="150.6" r="4.5" fill="#ff7f0e" fill-opacity="0.5" stroke="#fff" stroke-width="0.75" stroke-opacity="0.5"/>
<circle cx="509.9" cy="154.2" r="4.5" fill="#ff7f0e" fill-opacity="0.5" stroke="#fff" stroke-width="0.75" stroke-opacity="0.5"/>
<circle cx="512.8" cy="149.2" r="4.5" fill="#ff7f0e" fill-opacity="0.5" stroke="#fff" stroke-width="0.75" stroke-opacity="0.5"/>
<circle cx="517.1" cy="151.3" r="4.5" fill="#ff7f0e" fill-opacity="0.5" stroke="#fff" stroke-width="0.75" stroke-opacity="0.5"/>
<circle cx="518.5" cy="146.3" r="4.5" fill="#ff7f0e" fill-opacity="0.5" stroke="#fff" stroke-width="0.75" stroke-opacity="0.5"/>
<circle cx="522.8" cy="147.7" r="4.5" fill="#ff7f0e" fill-opacity="0.5" stroke="#fff" stroke-width="0.75" stroke-opacity="0.5"/>
<circle cx="525.6" cy="142.8" r="4.5" fill="#ff7f0e" fill-opacity="0.5" stroke="#fff" stroke-width="0.75" stroke-opacity="0.5"/>
<circle cx="529.9" cy="141.3" r="4.5" fill="#ff7f0e" fill-opacity="0.5" stroke="#fff" stroke-width="0.75" stroke-opacity="0.5"/>
<circle cx="531.3" cy="145.6" r="4.5" fill="#ff7f0e" fill-opacity="0.5" stroke="#fff" stroke-width="0.75" stroke-opacity="0.5"/>
<circle cx="535.6" cy="146.3" r="4.5" fill="#ff7f0e" fill-opacity="0.5" stroke="#fff" stroke-width="0.75" stroke-opacity="0.5"/>
<circle cx="536.3" cy="137.8" r="4.5" fill="#ff7f0e" fill-opacity="0.5" stroke="#fff" stroke-width="0.75" stroke-opacity="0.5"/>
<circle cx="539.9" cy="139.9" r="4.5" fill="#ff7f0e" fill-opacity="0.5" stroke="#fff" stroke-width="0.75" stroke-opacity="0.5"/>
<circle cx="541.3" cy="143.5" r="4.5" fill="#ff7f0e" fill-opacity="0.5" stroke="#fff" stroke-width="0.75" stroke-opacity="0.5"/>
<circle cx="545.6" cy="134.2" r="4.5" fill="#ff7f0e" fill-opacity="0.5" stroke="#fff" stroke-width="0.75" stroke-opacity="0.5"/>
<circle cx="548.4" cy="137.8" r="4.5" fill="#ff7f0e" fill-opacity="0.5" stroke="#fff" stroke-width="0.75" stroke-opacity="0.5"/>
<circle cx="551.3" cy="140.6" r="4.5" fill="#ff7f0e" fill-opacity="0.5" stroke="#fff" stroke-width="0.75" stroke-opacity="0.5"/>
<circle cx="552.7" cy="132.1" r="4.5" fill="#ff7f0e" fill-opacity="0.5" stroke="#fff" stroke-width="0.75" stroke-opacity="0.5"/>
<circle cx="555.5" cy="134.2" r="4.5" fill="#ff7f0e" fill-opacity="0.5" stroke="#fff" stroke-width="0.75" stroke-opacity="0.5"/>
<circle cx="559.8" cy="129.9" r="4.5" fill="#ff7f0e" fill-opacity="0.5" stroke="#fff" stroke-width="0.75" stroke-opacity="0.5"/>
<circle cx="561.2" cy="135.6" r="4.5" fill="#ff7f0e" fill-opacity="0.5" stroke="#fff" stroke-width="0.75" stroke-opacity="0.5"/>
<circle cx="564.8" cy="128.5" r="4.5" fill="#ff7f0e" fill-opacity="0.5" stroke="#fff" stroke-width="0.75" stroke-opacity="0.5"/>
<circle cx="568.3" cy="131.4" r="4.5" fill="#ff7f0e" fill-opacity="0.5" stroke="#fff" stroke-width="0.75" stroke-opacity="0.5"/>
<circle cx="571.9" cy="125.7" r="4.5" fill="#ff7f0e" fill-opacity="0.5" stroke="#fff" stroke-width="0.75" stroke-opacity="0.5"/>
<circle cx="574.0" cy="128.5" r="4.5" fill="#ff7f0e" fill-opacity="0.5" stroke="#fff" stroke-width="0.75" stroke-opacity="0.5"/>
<circle cx="561.4" cy="137.0" r="4.5" fill="#ff7f0e" fill-opacity="0.5" stroke="#fff" stroke-width="0.75" stroke-opacity="0.5"/>
<circle cx="564.3" cy="128.5" r="4.5" fill="#ff7f0e" fill-opacity="0.5" stroke="#fff" stroke-width="0.75" stroke-opacity="0.5"/>
<circle cx="569.3" cy="131.3" r="4.5" fill="#ff7f0e" fill-opacity="0.5" stroke="#fff" stroke-width="0.75" stroke-opacity="0.5"/>
<circle cx="571.4" cy="124.9" r="4.5" fill="#ff7f0e" fill-opacity="0.5" stroke="#fff" stroke-width="0.75" stroke-opacity="0.5"/>
<circle cx="574.2" cy="126.3" r="4.5" fill="#ff7f0e" fill-opacity="0.5" stroke="#fff" stroke-width="0.75" stroke-opacity="0.5"/>
<circle cx="585.6" cy="122.8" r="4.5" fill="#ff7f0e" fill-opacity="0.5" stroke="#fff" stroke-width="0.75" stroke-opacity="0.5"/>
<circle cx="587.8" cy="124.9" r="4.5" fill="#ff7f0e" fill-opacity="0.5" stroke="#fff" stroke-width="0.75" stroke-opacity="0.5"/>
<circle cx="590.6" cy="118.5" r="4.5" fill="#ff7f0e" fill-opacity="0.5" stroke="#fff" stroke-width="0.75" stroke-opacity="0.5"/>
<circle cx="592.1" cy="127.7" r="4.5" fill="#ff7f0e" fill-opacity="0.5" stroke="#fff" stroke-width="0.75" stroke-opacity="0.5"/>
<circle cx="594.9" cy="121.3" r="4.5" fill="#ff7f0e" fill-opacity="0.5" stroke="#fff" stroke-width="0.75" stroke-opacity="0.5"/>
<circle cx="600.6" cy="115.6" r="4.5" fill="#ff7f0e" fill-opacity="0.5" stroke="#fff" stroke-width="0.75" stroke-opacity="0.5"/>
<circle cx="608.4" cy="111.4" r="4.5" fill="#ff7f0e" fill-opacity="0.5" stroke="#fff" stroke-width="0.75" stroke-opacity="0.5"/>
<circle cx="618.4" cy="108.5" r="4.5" fill="#ff7f0e" fill-opacity="0.5" stroke="#fff" stroke-width="0.75" stroke-opacity="0.5"/>
<circle cx="625.5" cy="107.4" r="4.5" fill="#ff7f0e" fill-opacity="0.5" stroke="#fff" stroke-width="0.75" stroke-opacity="0.5"/>
</g>
<path d="M576,131.6 L581.8,119.4 L587.7,131.6 Z" fill="#000" stroke="#1f3a6e" stroke-width="0.8" stroke-linejoin="miter"/>
<rect x="425.5" y="256.8" width="301.9" height="99.9" fill="#fff"/>
<clipPath id="ic"><rect x="425.5" y="256.8" width="301.9" height="99.9"/></clipPath>
<g clip-path="url(#ic)">
<polygon points="425.5,256.8 727.4,256.8 727.4,284.0 689.0,284.0 681.0,292.0 657.0,292.0 651.0,284.0 645.0,288.0 645.0,292.0 630.0,297.0 627.0,291.5 619.6,291.0 611.3,281.0 604.2,277.0 595.9,277.0 592.5,283.0 585.0,272.0 580.0,265.8 472.6,265.8 466.2,281.0 466.0,284.0 425.5,284.0" fill="#ececec"/>
<polygon points="425.5,277.4 429.0,282.5 425.5,291.5" fill="#d0a8d8"/>
<polygon points="425.5,290.0 429.0,284.0 432.0,290.0 432.0,328.0 446.0,356.7 425.5,356.7" fill="#cc5888"/>
<polygon points="425.5,344.5 434.5,349.0 441.2,356.7 435.0,356.7 431.0,351.0 425.5,348.0" fill="#d87098"/>
<polygon points="425.5,348.0 431.0,350.5 435.0,356.7 425.5,356.7" fill="#8a6a9a"/>
<polygon points="431.6,276.7 456.6,276.7 460.5,281.8 460.5,283.0 428.0,283.0" fill="#ecc8c4"/>
<polygon points="428.5,283.0 431.0,280.5 458.5,280.5 460.5,283.0 460.5,346.0 453.5,356.7 445.0,356.7 431.0,329.0 429.5,290.0" fill="#ea8c80"/>
<polygon points="426.5,286.0 429.5,283.0 432.0,285.0 431.0,329.0 445.0,356.7 441.5,356.7 428.5,332.0 426.8,305.0" fill="#d85872"/>
<polygon points="432.3,283.1 449.0,283.1 456.6,300.4 457.9,343.5 452.0,356.7 445.7,356.7 431.0,328.0 429.7,290.0" fill="#e5786a"/>
<polygon points="461.0,282.5 463.7,276.7 467.0,283.8 467.5,292.0 473.3,306.8 479.7,321.0 491.2,326.2 480.3,348.0 463.7,348.0 461.0,344.0" fill="#b89868"/>
<polygon points="462.4,284.0 463.7,281.0 466.0,285.0 466.5,293.0 472.3,307.5 478.5,322.0 489.0,327.0 479.5,343.5 464.0,343.5 462.4,341.0" fill="#a8844a"/>
<polygon points="478.4,261.3 519.1,261.3 530.6,285.7 521.0,300.4 521.0,315.0 510.5,318.5 508.4,319.9 503.4,332.4 493.5,332.4 488.5,324.9 481.4,324.2 467.8,301.4 467.5,292.0 467.5,283.1" fill="#e4d468"/>
<polygon points="478.4,261.3 519.1,261.3 521.0,265.8 476.0,265.8" fill="#e4dcaa"/>
<polygon points="467.5,283.1 470.0,284.0 471.4,298.5 480.6,317.7 488.5,318.5 488.5,324.9 481.4,324.2 467.8,301.4 467.5,292.0" fill="#d4b434"/>
<polygon points="479.0,265.8 518.5,265.8 528.5,285.7 519.5,300.0 519.5,314.0 510.0,317.4 504.1,319.4 497.7,320.6 488.5,318.5 480.6,317.7 471.4,298.5 470.3,284.0" fill="#dcc040"/>
<polygon points="452.0,356.7 459.8,347.5 464.0,348.0 466.0,351.8 457.5,351.8 453.5,356.7" fill="#80807a"/>
<polygon points="463.7,348.0 480.3,348.0 481.5,351.8 466.0,351.8" fill="#6b5a3c"/>
<polygon points="453.5,356.7 457.5,351.8 481.0,351.8 489.5,332.6 531.3,332.6 531.3,356.7" fill="#66665a"/>
<polygon points="480.3,348.0 488.7,332.6 491.0,332.6 483.0,351.8 481.0,351.8" fill="#7a7a70"/>
<polygon points="510.8,338.6 526.6,338.6 518.5,349.8" fill="#808078"/>
<polygon points="527.6,340.0 531.3,340.0 531.3,356.7 527.6,356.7" fill="#7c7c74"/>
<polygon points="526.2,261.3 530.6,268.4 546.7,299.2 547.3,325.7 534.0,350.6 526.6,333.5 519.0,336.5 510.0,331.5 506.6,329.0 510.8,320.0 521.6,315.0 521.6,300.4 530.6,285.7 521.0,270.3" fill="#6ca43c"/>
<polygon points="526.2,263.2 529.3,268.6 532.0,274.5 540.0,290.5 543.5,297.0 534.5,295.0 525.5,297.0 523.2,300.0 532.0,285.7 522.8,270.6" fill="#90b868"/>
<polygon points="526.2,262.3 529.0,267.5 526.2,271.0 523.5,267.5" fill="#a4c684"/>
<polygon points="507.8,328.8 511.6,321.0 518.3,321.5 520.0,330.0 527.4,333.2 526.6,334.2 519.0,335.6 510.3,331.0" fill="#90bc68"/>
<polygon points="530.5,342.0 534.0,349.5 537.5,342.0 534.0,344.8" fill="#90bc68"/>
<polygon points="525.7,298.3 530.0,295.5 540.0,295.5 544.0,300.0 544.0,325.7 534.0,344.8 527.4,333.2 520.0,330.0 518.3,323.2 525.0,316.6" fill="#78a84a"/>
<polygon points="508.8,333.2 517.8,336.8 526.2,333.8 527.0,336.0 517.8,339.5 507.0,334.5" fill="#5a6048"/>
<polygon points="533.8,262.0 580.6,262.6 583.0,266.5 531.5,266.5" fill="#a8d4c8"/>
<polygon points="531.0,267.0 533.0,266.3 583.0,266.3 592.2,281.8 592.0,328.0 584.0,342.2 584.0,356.7 537.0,356.7 537.0,347.3 546.0,329.4 546.7,299.2 530.6,268.4" fill="#5cb8a0"/>
<polygon points="541.5,269.7 582.0,269.7 590.5,283.0 590.5,328.0 582.5,342.0 582.5,356.7 541.0,356.7 541.0,347.0 548.0,330.0 548.0,299.0 541.5,286.3" fill="#3eab90"/>
<polygon points="592.7,281.8 595.9,276.0 604.2,276.0 611.3,280.0 619.6,290.2 627.3,290.8 630.5,296.0 630.5,300.0 592.7,300.0" fill="#a8d0d8"/>
<polygon points="592.7,282.0 594.6,280.8 611.3,280.4 619.6,290.6 620.5,294.0 628.6,294.3 630.0,297.5 630.0,314.6 624.7,328.7 624.0,343.0 619.6,348.6 613.8,350.5 611.3,348.0 601.0,356.7 586.3,356.7 586.3,342.2 592.7,328.0" fill="#60b4c4"/>
<polygon points="594.6,283.1 604.2,283.1 611.9,293.4 619.6,296.6 628.6,297.2 628.6,314.0 620.9,328.0 618.0,334.0 611.6,345.5 606.0,346.5 600.0,352.0 598.0,356.7 588.0,356.7 588.0,342.5 594.6,328.5" fill="#40a8b8"/>
<polygon points="590.8,283.0 594.0,283.0 594.0,328.0 586.5,342.0 586.5,356.7 584.0,356.7 584.0,342.2 590.8,328.7" fill="#2898a0"/>
<polygon points="601.0,356.7 611.3,348.0 616.4,356.7" fill="#707068"/>
<polygon points="606.0,352.5 611.3,348.0 613.5,352.0" fill="#487070"/>
<polygon points="631.8,296.0 634.4,290.2 642.7,290.2 645.0,294.0 645.0,297.0" fill="#a8c8d8"/>
<polygon points="616.8,356.7 619.6,348.6 624.0,343.0 626.0,356.7" fill="#68a8cc"/>
<polygon points="631.8,296.0 644.0,296.0 647.8,305.0 654.9,314.6 654.9,334.5 653.0,339.6 653.0,356.7 624.0,356.7 624.7,328.7 631.2,314.6" fill="#4090c0"/>
<polygon points="630.0,297.0 632.0,297.0 632.0,314.6 625.5,328.7 624.5,328.7 630.0,314.6" fill="#2888a8"/>
<polygon points="613.8,350.5 619.6,348.6 616.8,356.0" fill="#fff"/>
<polygon points="645.0,286.3 650.4,276.7 657.8,290.2 680.9,290.2 689.2,276.1 727.4,276.1 727.4,300.0 645.0,300.0" fill="#e0d0e0"/>
<polygon points="645.0,290.0 650.1,281.8 657.8,294.7 681.5,294.7 689.2,280.6 727.4,280.6 727.4,300.0 645.0,300.0" fill="#d8b8d8"/>
<polygon points="645.0,294.0 650.1,283.5 658.5,296.6 682.2,296.6 689.9,283.1 727.4,283.1 727.4,290.2 720.0,290.2 711.0,306.8 707.2,315.3 707.2,321.0 704.6,323.0 696.9,319.1 689.9,333.2 656.0,333.2 654.9,314.6 647.8,305.0 644.0,296.0" fill="#d0a0d0"/>
<polygon points="644.0,296.0 645.0,294.0 645.8,292.5 655.5,314.6 655.5,333.2 654.9,334.5 653.0,339.6 653.0,334.0 653.0,314.6 647.8,305.0" fill="#4c7cba"/>
<polygon points="653.0,339.6 654.9,333.5 689.9,333.2 696.9,319.1 704.6,323.0 711.7,334.5 720.0,334.5 727.4,349.9 727.4,356.7 653.0,356.7" fill="#84608c"/>
<polygon points="696.9,319.1 704.6,323.0 711.7,334.5 711.7,339.0 704.0,336.4 696.3,326.2" fill="#8a6e9a"/>
<polygon points="656.5,338.6 689.3,338.6 696.3,326.2 704.0,336.4 711.7,339.0 719.4,339.0 727.4,352.4 727.4,356.7 656.5,356.7" fill="#785a85"/>
<polygon points="653.0,339.6 654.9,334.5 656.8,334.5 656.8,356.7 653.0,356.7" fill="#5a5888"/>
<polygon points="720.0,290.2 727.4,290.2 727.4,347.3 720.0,332.6 711.7,332.6 707.2,325.5 707.2,315.3 711.0,306.8" fill="#cf6590"/>
<polygon points="721.5,296.0 727.4,296.0 727.4,344.0 721.0,331.0 713.0,331.0 709.5,325.0 709.5,316.0 713.0,308.0" fill="#cc5580"/>
<polygon points="711.7,332.6 720.0,332.6 727.4,347.3 727.4,349.9 720.0,334.8 711.7,334.8" fill="#88406c"/>
<polygon points="705.2,320.4 707.2,316.0 707.2,325.5" fill="#fff"/>
</g>
<rect x="425.5" y="256.8" width="301.9" height="99.9" fill="none" stroke="#999" stroke-width="1.1"/>
<g stroke="#000" stroke-width="1.35" fill="none">
<line x1="74.90" y1="365.90" x2="74.90" y2="371.15"/><line x1="74.90" y1="365.90" x2="69.65" y2="365.90"/><line x1="157.03" y1="365.90" x2="157.03" y2="371.15"/><line x1="74.90" y1="322.60" x2="69.65" y2="322.60"/><line x1="239.15" y1="365.90" x2="239.15" y2="371.15"/><line x1="74.90" y1="279.30" x2="69.65" y2="279.30"/><line x1="321.27" y1="365.90" x2="321.27" y2="371.15"/><line x1="74.90" y1="236.00" x2="69.65" y2="236.00"/><line x1="403.40" y1="365.90" x2="403.40" y2="371.15"/><line x1="74.90" y1="192.70" x2="69.65" y2="192.70"/><line x1="485.52" y1="365.90" x2="485.52" y2="371.15"/><line x1="74.90" y1="149.40" x2="69.65" y2="149.40"/><line x1="567.65" y1="365.90" x2="567.65" y2="371.15"/><line x1="74.90" y1="106.10" x2="69.65" y2="106.10"/><line x1="649.77" y1="365.90" x2="649.77" y2="371.15"/><line x1="74.90" y1="62.80" x2="69.65" y2="62.80"/><line x1="731.90" y1="365.90" x2="731.90" y2="371.15"/><line x1="74.90" y1="19.50" x2="69.65" y2="19.50"/>
<rect x="74.9" y="19.5" width="657.00" height="346.40"/>
</g>
<g font-size="15px">
<text x="74.90" y="388.5" text-anchor="middle">0.0</text><text x="64.4" y="372.30" text-anchor="end">0.0</text><text x="157.03" y="388.5" text-anchor="middle">0.5</text><text x="64.4" y="329.00" text-anchor="end">0.5</text><text x="239.15" y="388.5" text-anchor="middle">1.0</text><text x="64.4" y="285.70" text-anchor="end">1.0</text><text x="321.27" y="388.5" text-anchor="middle">1.5</text><text x="64.4" y="242.40" text-anchor="end">1.5</text><text x="403.40" y="388.5" text-anchor="middle">2.0</text><text x="64.4" y="199.10" text-anchor="end">2.0</text><text x="485.52" y="388.5" text-anchor="middle">2.5</text><text x="64.4" y="155.80" text-anchor="end">2.5</text><text x="567.65" y="388.5" text-anchor="middle">3.0</text><text x="64.4" y="112.50" text-anchor="end">3.0</text><text x="649.77" y="388.5" text-anchor="middle">3.5</text><text x="64.4" y="69.20" text-anchor="end">3.5</text><text x="731.90" y="388.5" text-anchor="middle">4.0</text><text x="64.4" y="25.90" text-anchor="end">4.0</text>
</g>
<text x="403.2" y="411.5" font-size="18px" text-anchor="middle">Complexity</text>
<text transform="translate(30.3,192.8) rotate(-90)" font-size="18px" text-anchor="middle">Accuracy</text>
<g>
<rect x="82.5" y="27.2" width="156.3" height="71" rx="3" ry="3" fill="#fff" fill-opacity="0.8" stroke="#ccc" stroke-opacity="0.8" stroke-width="1.2"/>
<rect x="88.3" y="34" width="30.8" height="11.3" fill="#808080" fill-opacity="0.3"/>
<circle cx="103.4" cy="62.7" r="4.5" fill="#1f77b4" stroke="#fff" stroke-width="0.75"/>
<circle cx="103.4" cy="84.9" r="4.5" fill="#ff7f0e" fill-opacity="0.5" stroke="#fff" stroke-width="0.75" stroke-opacity="0.5"/>
<g font-size="15px">
<text x="130.5" y="44.6">Unachievable</text>
<text x="130.5" y="66.7">WCS</text>
<text x="130.5" y="88.8">C</text>
</g>
</g>
</svg>
</body></html>
